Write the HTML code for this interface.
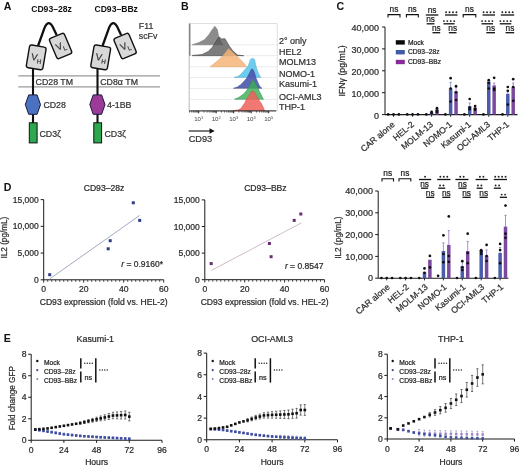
<!DOCTYPE html>
<html><head><meta charset="utf-8"><style>
html,body{margin:0;padding:0;background:#fff;}
body{width:520px;height:467px;overflow:hidden;}
svg{display:block;font-family:"Liberation Sans", sans-serif;will-change:transform;}
</style></head><body>
<svg width="520" height="467" viewBox="0 0 520 467">
<rect width="520" height="467" fill="#fff"/>
<text x="3.80" y="9.80" font-size="10.6" text-anchor="start" font-weight="bold" fill="#111" >A</text>
<text x="181.00" y="10.00" font-size="10.6" text-anchor="start" font-weight="bold" fill="#111" >B</text>
<text x="336.50" y="10.00" font-size="10.6" text-anchor="start" font-weight="bold" fill="#111" >C</text>
<text x="3.80" y="190.60" font-size="10.6" text-anchor="start" font-weight="bold" fill="#111" >D</text>
<text x="3.80" y="342.20" font-size="10.6" text-anchor="start" font-weight="bold" fill="#111" >E</text>
<line x1="18.30" y1="75.90" x2="160.00" y2="75.90" stroke="#9a9a9a" stroke-width="1.1" />
<line x1="18.30" y1="86.90" x2="160.00" y2="86.90" stroke="#9a9a9a" stroke-width="1.1" />
<line x1="33.00" y1="66.00" x2="33.00" y2="123.00" stroke="#111" stroke-width="2.1" />
<path d="M38,46 L44.6,27.6 Q48.4,19.2 52.6,26.5 L56.6,35" fill="none" stroke="#111" stroke-width="2.3"/>
<g transform="translate(36.2,57.4) rotate(9.5)"><rect x="-8.4" y="-11.5" width="16.8" height="23" rx="2.2" fill="#d8d8d8" stroke="#111" stroke-width="1.4"/><text x="-4.9" y="3.2" font-size="9.4" fill="#333" stroke="#333" stroke-width="0.22">V</text><text x="1.2" y="5.8" font-size="6.2" fill="#333" stroke="#333" stroke-width="0.22">H</text></g>
<g transform="translate(60.6,46.0) rotate(-23)"><rect x="-8.1" y="-11" width="16.2" height="22" rx="2.2" fill="#d8d8d8" stroke="#111" stroke-width="1.4"/><text x="-4.6" y="3.2" font-size="9.4" fill="#333" stroke="#333" stroke-width="0.22">V</text><text x="1.4" y="5.8" font-size="6.2" fill="#333" stroke="#333" stroke-width="0.22">L</text></g>
<polygon points="25.30,104.60 28.70,94.90 37.10,94.90 40.50,104.60 37.10,114.30 28.70,114.30" fill="#4a72c0" stroke="#1a1a3a" stroke-width="1.0"/>
<rect x="29.3" y="122.8" width="7.8" height="20.1" fill="#2ea84e" stroke="#111" stroke-width="1.0"/>
<line x1="97.50" y1="66.00" x2="97.50" y2="123.00" stroke="#111" stroke-width="2.1" />
<path d="M102.5,46 L109.1,27.6 Q112.9,19.2 117.1,26.5 L121.1,35" fill="none" stroke="#111" stroke-width="2.3"/>
<g transform="translate(100.7,57.4) rotate(9.5)"><rect x="-8.4" y="-11.5" width="16.8" height="23" rx="2.2" fill="#d8d8d8" stroke="#111" stroke-width="1.4"/><text x="-4.9" y="3.2" font-size="9.4" fill="#333" stroke="#333" stroke-width="0.22">V</text><text x="1.2" y="5.8" font-size="6.2" fill="#333" stroke="#333" stroke-width="0.22">H</text></g>
<g transform="translate(125.1,46.0) rotate(-23)"><rect x="-8.1" y="-11" width="16.2" height="22" rx="2.2" fill="#d8d8d8" stroke="#111" stroke-width="1.4"/><text x="-4.6" y="3.2" font-size="9.4" fill="#333" stroke="#333" stroke-width="0.22">V</text><text x="1.4" y="5.8" font-size="6.2" fill="#333" stroke="#333" stroke-width="0.22">L</text></g>
<polygon points="89.80,104.60 93.20,94.90 101.60,94.90 105.00,104.60 101.60,114.30 93.20,114.30" fill="#9c3a9a" stroke="#1a1a3a" stroke-width="1.0"/>
<rect x="93.8" y="122.8" width="7.8" height="20.1" fill="#2ea84e" stroke="#111" stroke-width="1.0"/>
<text x="51.50" y="12.20" font-size="8.6" text-anchor="middle" font-weight="bold" fill="#111" >CD93–28z</text>
<text x="116.20" y="12.20" font-size="8.6" text-anchor="middle" font-weight="bold" fill="#111" >CD93–BBz</text>
<text x="138.80" y="29.20" font-size="8.8" text-anchor="start" font-weight="normal" fill="#333"  stroke="#333" stroke-width="0.22">F11</text>
<text x="138.80" y="38.60" font-size="8.8" text-anchor="start" font-weight="normal" fill="#333"  stroke="#333" stroke-width="0.22">scFv</text>
<text x="35.60" y="84.60" font-size="8.8" text-anchor="start" font-weight="normal" fill="#333"  stroke="#333" stroke-width="0.22">CD28 TM</text>
<text x="100.20" y="84.60" font-size="8.8" text-anchor="start" font-weight="normal" fill="#333"  stroke="#333" stroke-width="0.22">CD8α TM</text>
<text x="43.40" y="108.20" font-size="8.8" text-anchor="start" font-weight="normal" fill="#333"  stroke="#333" stroke-width="0.22">CD28</text>
<text x="107.00" y="108.20" font-size="8.8" text-anchor="start" font-weight="normal" fill="#333"  stroke="#333" stroke-width="0.22">4-1BB</text>
<text x="39.50" y="137.40" font-size="8.8" text-anchor="start" font-weight="normal" fill="#333"  stroke="#333" stroke-width="0.22">CD3ζ</text>
<text x="104.50" y="137.40" font-size="8.8" text-anchor="start" font-weight="normal" fill="#333"  stroke="#333" stroke-width="0.22">CD3ζ</text>
<rect x="189.2" y="23.6" width="88.0" height="87.30000000000001" fill="none" stroke="#d8d8d8" stroke-width="0.8"/>
<line x1="189.20" y1="44.80" x2="277.20" y2="44.80" stroke="#e6e6e6" stroke-width="0.8" />
<line x1="189.20" y1="55.70" x2="277.20" y2="55.70" stroke="#e6e6e6" stroke-width="0.8" />
<line x1="189.20" y1="66.80" x2="277.20" y2="66.80" stroke="#e6e6e6" stroke-width="0.8" />
<line x1="189.20" y1="77.60" x2="277.20" y2="77.60" stroke="#e6e6e6" stroke-width="0.8" />
<line x1="189.20" y1="88.40" x2="277.20" y2="88.40" stroke="#e6e6e6" stroke-width="0.8" />
<line x1="189.20" y1="99.40" x2="277.20" y2="99.40" stroke="#e6e6e6" stroke-width="0.8" />
<path d="M192.20,44.80 L192.20,44.80 L198.30,42.80 L204.50,39.70 L208.80,34.80 L212.50,29.20 L214.90,26.20 L217.40,29.80 L218.60,36.00 L220.50,40.50 L223.00,44.80 L223.00,44.80 Z" fill="#8c8c8c" fill-opacity="1" stroke="#707070" stroke-width="0.5"/>
<line x1="189.70" y1="23.80" x2="189.70" y2="55.70" stroke="#222" stroke-width="1.1" />
<path d="M192.20,55.70 L192.20,55.40 L202.00,54.50 L208.20,51.40 L212.50,47.10 L215.50,42.20 L218.20,37.80 L219.80,37.20 L221.70,39.10 L224.80,38.50 L226.00,40.30 L229.10,45.80 L232.80,50.80 L237.70,55.10 L243.80,55.70 L243.80,55.70 Z" fill="#585858" fill-opacity="0.78" stroke="#3a3a3a" stroke-width="0.5"/>
<path d="M210.60,66.80 L210.60,66.50 L218.00,60.60 L222.90,55.70 L227.80,49.50 L228.50,48.60 L232.80,52.60 L237.70,56.90 L243.80,63.10 L246.30,66.50 L246.30,66.80 Z" fill="#f6b478" fill-opacity="0.85" stroke="#dc9c60" stroke-width="0.5"/>
<path d="M234.20,77.40 L234.20,77.40 L238.00,76.50 L241.80,73.20 L245.00,69.50 L248.40,65.50 L250.50,59.40 L252.60,58.20 L254.60,59.40 L255.80,65.50 L257.00,69.50 L258.40,73.20 L259.80,76.00 L261.00,77.40 L261.00,77.40 Z" fill="#62c8ec" fill-opacity="0.92" stroke="#4aa8cc" stroke-width="0.5"/>
<path d="M233.50,88.30 L233.50,88.30 L237.00,87.20 L240.40,84.90 L243.80,81.50 L246.90,78.00 L249.50,73.00 L251.20,69.50 L252.10,68.90 L253.00,69.50 L254.60,73.00 L256.00,78.00 L257.50,81.50 L259.00,84.90 L260.50,87.20 L262.00,88.30 L262.00,88.30 Z" fill="#4b55ad" fill-opacity="0.9" stroke="#3a4090" stroke-width="0.5"/>
<path d="M234.60,99.30 L234.60,99.30 L238.50,97.60 L243.30,94.20 L246.00,91.20 L248.60,87.50 L250.50,83.50 L252.30,80.50 L253.50,80.30 L255.00,82.50 L257.70,87.50 L259.30,91.20 L261.00,94.20 L262.30,97.20 L263.50,99.30 L263.50,99.30 Z" fill="#3cae58" fill-opacity="0.82" stroke="#2f8a48" stroke-width="0.5"/>
<path d="M233.50,110.60 L233.50,110.60 L238.00,110.00 L240.90,108.50 L244.20,103.80 L246.60,99.00 L249.50,94.50 L251.50,91.20 L252.60,90.90 L254.00,91.50 L256.00,95.00 L258.20,99.00 L261.50,103.80 L263.50,108.00 L264.60,110.60 L264.60,110.60 Z" fill="#f0605c" fill-opacity="0.85" stroke="#cc4a48" stroke-width="0.5"/>
<line x1="189.20" y1="110.90" x2="276.20" y2="110.90" stroke="#222" stroke-width="1.0" />
<line x1="189.20" y1="23.60" x2="189.20" y2="110.90" stroke="#bdbdbd" stroke-width="0.8" />
<line x1="198.70" y1="110.90" x2="198.70" y2="113.30" stroke="#222" stroke-width="1.0" />
<line x1="216.20" y1="110.90" x2="216.20" y2="113.30" stroke="#222" stroke-width="1.0" />
<line x1="233.70" y1="110.90" x2="233.70" y2="113.30" stroke="#222" stroke-width="1.0" />
<line x1="251.20" y1="110.90" x2="251.20" y2="113.30" stroke="#222" stroke-width="1.0" />
<line x1="268.70" y1="110.90" x2="268.70" y2="113.30" stroke="#222" stroke-width="1.0" />
<line x1="189.55" y1="110.90" x2="189.55" y2="112.60" stroke="#333" stroke-width="0.7" />
<line x1="191.74" y1="110.90" x2="191.74" y2="112.60" stroke="#333" stroke-width="0.7" />
<line x1="193.43" y1="110.90" x2="193.43" y2="112.60" stroke="#333" stroke-width="0.7" />
<line x1="194.82" y1="110.90" x2="194.82" y2="112.60" stroke="#333" stroke-width="0.7" />
<line x1="195.99" y1="110.90" x2="195.99" y2="112.60" stroke="#333" stroke-width="0.7" />
<line x1="197.00" y1="110.90" x2="197.00" y2="112.60" stroke="#333" stroke-width="0.7" />
<line x1="197.90" y1="110.90" x2="197.90" y2="112.60" stroke="#333" stroke-width="0.7" />
<line x1="203.97" y1="110.90" x2="203.97" y2="112.60" stroke="#333" stroke-width="0.7" />
<line x1="207.05" y1="110.90" x2="207.05" y2="112.60" stroke="#333" stroke-width="0.7" />
<line x1="209.24" y1="110.90" x2="209.24" y2="112.60" stroke="#333" stroke-width="0.7" />
<line x1="210.93" y1="110.90" x2="210.93" y2="112.60" stroke="#333" stroke-width="0.7" />
<line x1="212.32" y1="110.90" x2="212.32" y2="112.60" stroke="#333" stroke-width="0.7" />
<line x1="213.49" y1="110.90" x2="213.49" y2="112.60" stroke="#333" stroke-width="0.7" />
<line x1="214.50" y1="110.90" x2="214.50" y2="112.60" stroke="#333" stroke-width="0.7" />
<line x1="215.40" y1="110.90" x2="215.40" y2="112.60" stroke="#333" stroke-width="0.7" />
<line x1="221.47" y1="110.90" x2="221.47" y2="112.60" stroke="#333" stroke-width="0.7" />
<line x1="224.55" y1="110.90" x2="224.55" y2="112.60" stroke="#333" stroke-width="0.7" />
<line x1="226.74" y1="110.90" x2="226.74" y2="112.60" stroke="#333" stroke-width="0.7" />
<line x1="228.43" y1="110.90" x2="228.43" y2="112.60" stroke="#333" stroke-width="0.7" />
<line x1="229.82" y1="110.90" x2="229.82" y2="112.60" stroke="#333" stroke-width="0.7" />
<line x1="230.99" y1="110.90" x2="230.99" y2="112.60" stroke="#333" stroke-width="0.7" />
<line x1="232.00" y1="110.90" x2="232.00" y2="112.60" stroke="#333" stroke-width="0.7" />
<line x1="232.90" y1="110.90" x2="232.90" y2="112.60" stroke="#333" stroke-width="0.7" />
<line x1="238.97" y1="110.90" x2="238.97" y2="112.60" stroke="#333" stroke-width="0.7" />
<line x1="242.05" y1="110.90" x2="242.05" y2="112.60" stroke="#333" stroke-width="0.7" />
<line x1="244.24" y1="110.90" x2="244.24" y2="112.60" stroke="#333" stroke-width="0.7" />
<line x1="245.93" y1="110.90" x2="245.93" y2="112.60" stroke="#333" stroke-width="0.7" />
<line x1="247.32" y1="110.90" x2="247.32" y2="112.60" stroke="#333" stroke-width="0.7" />
<line x1="248.49" y1="110.90" x2="248.49" y2="112.60" stroke="#333" stroke-width="0.7" />
<line x1="249.50" y1="110.90" x2="249.50" y2="112.60" stroke="#333" stroke-width="0.7" />
<line x1="250.40" y1="110.90" x2="250.40" y2="112.60" stroke="#333" stroke-width="0.7" />
<line x1="256.47" y1="110.90" x2="256.47" y2="112.60" stroke="#333" stroke-width="0.7" />
<line x1="259.55" y1="110.90" x2="259.55" y2="112.60" stroke="#333" stroke-width="0.7" />
<line x1="261.74" y1="110.90" x2="261.74" y2="112.60" stroke="#333" stroke-width="0.7" />
<line x1="263.43" y1="110.90" x2="263.43" y2="112.60" stroke="#333" stroke-width="0.7" />
<line x1="264.82" y1="110.90" x2="264.82" y2="112.60" stroke="#333" stroke-width="0.7" />
<line x1="265.99" y1="110.90" x2="265.99" y2="112.60" stroke="#333" stroke-width="0.7" />
<line x1="267.00" y1="110.90" x2="267.00" y2="112.60" stroke="#333" stroke-width="0.7" />
<line x1="267.90" y1="110.90" x2="267.90" y2="112.60" stroke="#333" stroke-width="0.7" />
<text x="198.70" y="120.8" font-size="6.1" text-anchor="middle" fill="#444" stroke="none">10<tspan dy="-2.3" font-size="4.0">1</tspan></text>
<text x="216.20" y="120.8" font-size="6.1" text-anchor="middle" fill="#444" stroke="none">10<tspan dy="-2.3" font-size="4.0">2</tspan></text>
<text x="233.70" y="120.8" font-size="6.1" text-anchor="middle" fill="#444" stroke="none">10<tspan dy="-2.3" font-size="4.0">3</tspan></text>
<text x="251.20" y="120.8" font-size="6.1" text-anchor="middle" fill="#444" stroke="none">10<tspan dy="-2.3" font-size="4.0">4</tspan></text>
<text x="268.70" y="120.8" font-size="6.1" text-anchor="middle" fill="#444" stroke="none">10<tspan dy="-2.3" font-size="4.0">5</tspan></text>
<line x1="188.70" y1="131.00" x2="211.00" y2="131.00" stroke="#111" stroke-width="1.1" />
<polygon points="209.5,128.3 214.7,131 209.5,133.7" fill="#111"/>
<text x="188.70" y="142.40" font-size="9.2" text-anchor="start" font-weight="normal" fill="#333"  stroke="#333" stroke-width="0.22">CD93</text>
<text x="279.00" y="44.40" font-size="9" text-anchor="start" font-weight="normal" fill="#333"  stroke="#333" stroke-width="0.22">2° only</text>
<text x="279.00" y="55.00" font-size="9" text-anchor="start" font-weight="normal" fill="#333"  stroke="#333" stroke-width="0.22">HEL2</text>
<text x="279.00" y="65.00" font-size="9" text-anchor="start" font-weight="normal" fill="#333"  stroke="#333" stroke-width="0.22">MOLM13</text>
<text x="279.00" y="77.20" font-size="9" text-anchor="start" font-weight="normal" fill="#333"  stroke="#333" stroke-width="0.22">NOMO-1</text>
<text x="279.00" y="87.20" font-size="9" text-anchor="start" font-weight="normal" fill="#333"  stroke="#333" stroke-width="0.22">Kasumi-1</text>
<text x="279.00" y="99.60" font-size="9" text-anchor="start" font-weight="normal" fill="#333"  stroke="#333" stroke-width="0.22">OCI-AML3</text>
<text x="279.00" y="109.80" font-size="9" text-anchor="start" font-weight="normal" fill="#333"  stroke="#333" stroke-width="0.22">THP-1</text>
<line x1="385.00" y1="27.00" x2="385.00" y2="114.60" stroke="#1a1a1a" stroke-width="1.0" />
<line x1="382.00" y1="114.60" x2="385.00" y2="114.60" stroke="#1a1a1a" stroke-width="1.0" />
<text x="379.00" y="118.50" font-size="9" text-anchor="end" font-weight="normal" fill="#2a2a2a"  stroke="#2a2a2a" stroke-width="0.22">0</text>
<line x1="382.00" y1="92.70" x2="385.00" y2="92.70" stroke="#1a1a1a" stroke-width="1.0" />
<text x="379.00" y="96.60" font-size="9" text-anchor="end" font-weight="normal" fill="#2a2a2a"  stroke="#2a2a2a" stroke-width="0.22">10,000</text>
<line x1="382.00" y1="70.80" x2="385.00" y2="70.80" stroke="#1a1a1a" stroke-width="1.0" />
<text x="379.00" y="74.70" font-size="9" text-anchor="end" font-weight="normal" fill="#2a2a2a"  stroke="#2a2a2a" stroke-width="0.22">20,000</text>
<line x1="382.00" y1="48.90" x2="385.00" y2="48.90" stroke="#1a1a1a" stroke-width="1.0" />
<text x="379.00" y="52.80" font-size="9" text-anchor="end" font-weight="normal" fill="#2a2a2a"  stroke="#2a2a2a" stroke-width="0.22">30,000</text>
<line x1="382.00" y1="27.00" x2="385.00" y2="27.00" stroke="#1a1a1a" stroke-width="1.0" />
<text x="379.00" y="30.90" font-size="9" text-anchor="end" font-weight="normal" fill="#2a2a2a"  stroke="#2a2a2a" stroke-width="0.22">40,000</text>
<line x1="385.00" y1="114.60" x2="517.50" y2="114.60" stroke="#1a1a1a" stroke-width="1.1" />
<line x1="393.50" y1="114.60" x2="393.50" y2="116.80" stroke="#1a1a1a" stroke-width="0.9" />
<line x1="412.55" y1="114.60" x2="412.55" y2="116.80" stroke="#1a1a1a" stroke-width="0.9" />
<line x1="431.60" y1="114.60" x2="431.60" y2="116.80" stroke="#1a1a1a" stroke-width="0.9" />
<line x1="450.65" y1="114.60" x2="450.65" y2="116.80" stroke="#1a1a1a" stroke-width="0.9" />
<line x1="469.70" y1="114.60" x2="469.70" y2="116.80" stroke="#1a1a1a" stroke-width="0.9" />
<line x1="488.75" y1="114.60" x2="488.75" y2="116.80" stroke="#1a1a1a" stroke-width="0.9" />
<line x1="507.80" y1="114.60" x2="507.80" y2="116.80" stroke="#1a1a1a" stroke-width="0.9" />
<circle cx="388.20" cy="114.40" r="1.35" fill="#111" />
<circle cx="393.50" cy="114.40" r="1.35" fill="#111" />
<circle cx="398.90" cy="114.40" r="1.35" fill="#111" />
<circle cx="407.25" cy="114.40" r="1.35" fill="#111" />
<circle cx="412.55" cy="114.40" r="1.35" fill="#111" />
<circle cx="417.95" cy="114.40" r="1.35" fill="#111" />
<circle cx="426.30" cy="114.40" r="1.35" fill="#111" />
<rect x="429.85" y="112.30" width="3.50" height="2.30" fill="#4a5cab" />
<circle cx="431.60" cy="113.00" r="1.35" fill="#111" />
<circle cx="431.60" cy="111.80" r="1.35" fill="#111" />
<rect x="435.25" y="109.50" width="3.50" height="5.10" fill="#7b4a9e" />
<line x1="437.00" y1="107.80" x2="437.00" y2="109.50" stroke="#7b4a9e" stroke-width="0.6" />
<line x1="435.90" y1="107.80" x2="438.10" y2="107.80" stroke="#7b4a9e" stroke-width="0.6" />
<circle cx="437.00" cy="108.20" r="1.35" fill="#111" />
<circle cx="437.00" cy="110.50" r="1.35" fill="#111" />
<circle cx="437.00" cy="112.00" r="1.35" fill="#111" />
<circle cx="445.35" cy="114.40" r="1.35" fill="#111" />
<rect x="448.90" y="88.50" width="3.50" height="26.10" fill="#4a5cab" />
<line x1="450.65" y1="82.30" x2="450.65" y2="88.50" stroke="#4a5cab" stroke-width="0.6" />
<line x1="449.55" y1="82.30" x2="451.75" y2="82.30" stroke="#4a5cab" stroke-width="0.6" />
<circle cx="450.65" cy="78.20" r="1.35" fill="#111" />
<circle cx="450.65" cy="88.50" r="1.35" fill="#111" />
<circle cx="450.65" cy="101.50" r="1.35" fill="#111" />
<rect x="454.30" y="91.50" width="3.50" height="23.10" fill="#7b4a9e" />
<line x1="456.05" y1="87.50" x2="456.05" y2="91.50" stroke="#7b4a9e" stroke-width="0.6" />
<line x1="454.95" y1="87.50" x2="457.15" y2="87.50" stroke="#7b4a9e" stroke-width="0.6" />
<circle cx="456.05" cy="86.20" r="1.35" fill="#111" />
<circle cx="456.05" cy="92.30" r="1.35" fill="#111" />
<circle cx="456.05" cy="100.00" r="1.35" fill="#111" />
<circle cx="464.40" cy="114.40" r="1.35" fill="#111" />
<rect x="467.95" y="106.20" width="3.50" height="8.40" fill="#4a5cab" />
<line x1="469.70" y1="103.00" x2="469.70" y2="106.20" stroke="#4a5cab" stroke-width="0.6" />
<line x1="468.60" y1="103.00" x2="470.80" y2="103.00" stroke="#4a5cab" stroke-width="0.6" />
<circle cx="469.70" cy="99.00" r="1.35" fill="#111" />
<circle cx="469.70" cy="107.50" r="1.35" fill="#111" />
<circle cx="469.70" cy="109.20" r="1.35" fill="#111" />
<rect x="473.35" y="107.80" width="3.50" height="6.80" fill="#7b4a9e" />
<line x1="475.10" y1="105.50" x2="475.10" y2="107.80" stroke="#7b4a9e" stroke-width="0.6" />
<line x1="474.00" y1="105.50" x2="476.20" y2="105.50" stroke="#7b4a9e" stroke-width="0.6" />
<circle cx="475.10" cy="106.00" r="1.35" fill="#111" />
<circle cx="475.10" cy="108.50" r="1.35" fill="#111" />
<circle cx="475.10" cy="109.80" r="1.35" fill="#111" />
<circle cx="483.45" cy="114.40" r="1.35" fill="#111" />
<rect x="487.00" y="81.50" width="3.50" height="33.10" fill="#4a5cab" />
<circle cx="488.75" cy="80.20" r="1.35" fill="#111" />
<circle cx="488.75" cy="83.00" r="1.35" fill="#111" />
<circle cx="488.75" cy="88.50" r="1.35" fill="#111" />
<rect x="492.40" y="85.40" width="3.50" height="29.20" fill="#7b4a9e" />
<line x1="494.15" y1="83.00" x2="494.15" y2="85.40" stroke="#7b4a9e" stroke-width="0.6" />
<line x1="493.05" y1="83.00" x2="495.25" y2="83.00" stroke="#7b4a9e" stroke-width="0.6" />
<circle cx="494.15" cy="77.80" r="1.35" fill="#111" />
<circle cx="494.15" cy="88.50" r="1.35" fill="#111" />
<circle cx="494.15" cy="90.00" r="1.35" fill="#111" />
<circle cx="502.50" cy="114.40" r="1.35" fill="#111" />
<rect x="506.05" y="93.80" width="3.50" height="20.80" fill="#4a5cab" />
<line x1="507.80" y1="90.50" x2="507.80" y2="93.80" stroke="#4a5cab" stroke-width="0.6" />
<line x1="506.70" y1="90.50" x2="508.90" y2="90.50" stroke="#4a5cab" stroke-width="0.6" />
<circle cx="507.80" cy="87.00" r="1.35" fill="#111" />
<circle cx="507.80" cy="90.80" r="1.35" fill="#111" />
<circle cx="507.80" cy="104.60" r="1.35" fill="#111" />
<rect x="511.45" y="87.00" width="3.50" height="27.60" fill="#7b4a9e" />
<line x1="513.20" y1="83.00" x2="513.20" y2="87.00" stroke="#7b4a9e" stroke-width="0.6" />
<line x1="512.10" y1="83.00" x2="514.30" y2="83.00" stroke="#7b4a9e" stroke-width="0.6" />
<circle cx="513.20" cy="79.20" r="1.35" fill="#111" />
<circle cx="513.20" cy="87.00" r="1.35" fill="#111" />
<circle cx="513.20" cy="100.80" r="1.35" fill="#111" />
<text x="345.00" y="70.90" font-size="8.8" text-anchor="middle" fill="#2a2a2a" transform="rotate(-90 345.00 70.90)" stroke="#2a2a2a" stroke-width="0.22">IFNγ (pg/mL)</text>
<text x="395.50" y="125.50" font-size="8.6" text-anchor="end" fill="#2a2a2a" transform="rotate(-40 395.50 125.50)" stroke="#2a2a2a" stroke-width="0.22">CAR alone</text>
<text x="414.55" y="125.50" font-size="8.6" text-anchor="end" fill="#2a2a2a" transform="rotate(-40 414.55 125.50)" stroke="#2a2a2a" stroke-width="0.22">HEL-2</text>
<text x="433.60" y="125.50" font-size="8.6" text-anchor="end" fill="#2a2a2a" transform="rotate(-40 433.60 125.50)" stroke="#2a2a2a" stroke-width="0.22">MOLM-13</text>
<text x="452.65" y="125.50" font-size="8.6" text-anchor="end" fill="#2a2a2a" transform="rotate(-40 452.65 125.50)" stroke="#2a2a2a" stroke-width="0.22">NOMO-1</text>
<text x="471.70" y="125.50" font-size="8.6" text-anchor="end" fill="#2a2a2a" transform="rotate(-40 471.70 125.50)" stroke="#2a2a2a" stroke-width="0.22">Kasumi-1</text>
<text x="490.75" y="125.50" font-size="8.6" text-anchor="end" fill="#2a2a2a" transform="rotate(-40 490.75 125.50)" stroke="#2a2a2a" stroke-width="0.22">OCI-AML3</text>
<text x="509.80" y="125.50" font-size="8.6" text-anchor="end" fill="#2a2a2a" transform="rotate(-40 509.80 125.50)" stroke="#2a2a2a" stroke-width="0.22">THP-1</text>
<rect x="395.80" y="40.20" width="9.00" height="4.40" fill="#0a0a0a" />
<text x="407.90" y="44.60" font-size="6.7" text-anchor="start" font-weight="normal" fill="#222"  stroke="#222" stroke-width="0.22">Mock</text>
<rect x="395.80" y="50.00" width="9.00" height="4.40" fill="#3f5aa6" />
<text x="407.90" y="54.40" font-size="6.7" text-anchor="start" font-weight="normal" fill="#222"  stroke="#222" stroke-width="0.22">CD93–28z</text>
<rect x="395.80" y="59.80" width="9.00" height="4.40" fill="#8a2a9a" />
<text x="407.90" y="64.20" font-size="6.7" text-anchor="start" font-weight="normal" fill="#222"  stroke="#222" stroke-width="0.22">CD93–BBz</text>
<path d="M388.00,17.40 L388.00,14.60 L400.00,14.60 L400.00,17.40" fill="none" stroke="#111" stroke-width="1.1"/>
<text x="394.00" y="11.80" font-size="8.3" text-anchor="middle" font-weight="normal" fill="#222"  stroke="#222" stroke-width="0.22">ns</text>
<path d="M406.40,17.40 L406.40,14.60 L418.30,14.60 L418.30,17.40" fill="none" stroke="#111" stroke-width="1.1"/>
<text x="412.35" y="11.80" font-size="8.3" text-anchor="middle" font-weight="normal" fill="#222"  stroke="#222" stroke-width="0.22">ns</text>
<line x1="425.80" y1="15.00" x2="438.30" y2="15.00" stroke="#111" stroke-width="1.3" />
<text x="432.05" y="13.40" font-size="8.3" text-anchor="middle" font-weight="normal" fill="#222"  stroke="#222" stroke-width="0.22">ns</text>
<line x1="426.70" y1="23.80" x2="434.40" y2="23.80" stroke="#111" stroke-width="1.3" />
<text x="430.55" y="22.20" font-size="8.3" text-anchor="middle" font-weight="normal" fill="#222"  stroke="#222" stroke-width="0.22">ns</text>
<line x1="432.50" y1="32.70" x2="440.20" y2="32.70" stroke="#111" stroke-width="1.3" />
<text x="436.35" y="31.10" font-size="8.3" text-anchor="middle" font-weight="normal" fill="#222"  stroke="#222" stroke-width="0.22">ns</text>
<line x1="445.00" y1="15.00" x2="457.50" y2="15.00" stroke="#111" stroke-width="1.3" />
<circle cx="446.07" cy="12.30" r="0.95" fill="#222" />
<circle cx="449.52" cy="12.30" r="0.95" fill="#222" />
<circle cx="452.98" cy="12.30" r="0.95" fill="#222" />
<circle cx="456.43" cy="12.30" r="0.95" fill="#222" />
<line x1="443.50" y1="23.80" x2="454.60" y2="23.80" stroke="#111" stroke-width="1.3" />
<circle cx="443.88" cy="21.10" r="0.95" fill="#222" />
<circle cx="447.32" cy="21.10" r="0.95" fill="#222" />
<circle cx="450.78" cy="21.10" r="0.95" fill="#222" />
<circle cx="454.23" cy="21.10" r="0.95" fill="#222" />
<line x1="448.80" y1="32.70" x2="456.50" y2="32.70" stroke="#111" stroke-width="1.3" />
<text x="452.65" y="31.10" font-size="8.3" text-anchor="middle" font-weight="normal" fill="#222"  stroke="#222" stroke-width="0.22">ns</text>
<path d="M463.20,17.40 L463.20,14.60 L475.80,14.60 L475.80,17.40" fill="none" stroke="#111" stroke-width="1.1"/>
<text x="469.50" y="11.80" font-size="8.3" text-anchor="middle" font-weight="normal" fill="#222"  stroke="#222" stroke-width="0.22">ns</text>
<line x1="482.50" y1="15.00" x2="495.00" y2="15.00" stroke="#111" stroke-width="1.3" />
<circle cx="483.57" cy="12.30" r="0.95" fill="#222" />
<circle cx="487.02" cy="12.30" r="0.95" fill="#222" />
<circle cx="490.48" cy="12.30" r="0.95" fill="#222" />
<circle cx="493.93" cy="12.30" r="0.95" fill="#222" />
<line x1="481.50" y1="23.80" x2="493.00" y2="23.80" stroke="#111" stroke-width="1.3" />
<circle cx="482.07" cy="21.10" r="0.95" fill="#222" />
<circle cx="485.52" cy="21.10" r="0.95" fill="#222" />
<circle cx="488.98" cy="21.10" r="0.95" fill="#222" />
<circle cx="492.43" cy="21.10" r="0.95" fill="#222" />
<line x1="486.30" y1="32.70" x2="495.00" y2="32.70" stroke="#111" stroke-width="1.3" />
<text x="490.65" y="31.10" font-size="8.3" text-anchor="middle" font-weight="normal" fill="#222"  stroke="#222" stroke-width="0.22">ns</text>
<line x1="500.80" y1="15.00" x2="514.20" y2="15.00" stroke="#111" stroke-width="1.3" />
<circle cx="502.32" cy="12.30" r="0.95" fill="#222" />
<circle cx="505.77" cy="12.30" r="0.95" fill="#222" />
<circle cx="509.23" cy="12.30" r="0.95" fill="#222" />
<circle cx="512.67" cy="12.30" r="0.95" fill="#222" />
<line x1="499.80" y1="23.80" x2="511.30" y2="23.80" stroke="#111" stroke-width="1.3" />
<circle cx="500.38" cy="21.10" r="0.95" fill="#222" />
<circle cx="503.82" cy="21.10" r="0.95" fill="#222" />
<circle cx="507.28" cy="21.10" r="0.95" fill="#222" />
<circle cx="510.73" cy="21.10" r="0.95" fill="#222" />
<line x1="505.60" y1="32.70" x2="514.20" y2="32.70" stroke="#111" stroke-width="1.3" />
<text x="509.90" y="31.10" font-size="8.3" text-anchor="middle" font-weight="normal" fill="#222"  stroke="#222" stroke-width="0.22">ns</text>
<line x1="378.20" y1="191.00" x2="378.20" y2="278.20" stroke="#1a1a1a" stroke-width="1.0" />
<line x1="375.20" y1="278.20" x2="378.20" y2="278.20" stroke="#1a1a1a" stroke-width="1.0" />
<text x="372.90" y="281.40" font-size="9" text-anchor="end" font-weight="normal" fill="#2a2a2a"  stroke="#2a2a2a" stroke-width="0.22">0</text>
<line x1="375.20" y1="256.40" x2="378.20" y2="256.40" stroke="#1a1a1a" stroke-width="1.0" />
<text x="372.90" y="259.60" font-size="9" text-anchor="end" font-weight="normal" fill="#2a2a2a"  stroke="#2a2a2a" stroke-width="0.22">10,000</text>
<line x1="375.20" y1="234.60" x2="378.20" y2="234.60" stroke="#1a1a1a" stroke-width="1.0" />
<text x="372.90" y="237.80" font-size="9" text-anchor="end" font-weight="normal" fill="#2a2a2a"  stroke="#2a2a2a" stroke-width="0.22">20,000</text>
<line x1="375.20" y1="212.80" x2="378.20" y2="212.80" stroke="#1a1a1a" stroke-width="1.0" />
<text x="372.90" y="216.00" font-size="9" text-anchor="end" font-weight="normal" fill="#2a2a2a"  stroke="#2a2a2a" stroke-width="0.22">30,000</text>
<line x1="375.20" y1="191.00" x2="378.20" y2="191.00" stroke="#1a1a1a" stroke-width="1.0" />
<text x="372.90" y="194.20" font-size="9" text-anchor="end" font-weight="normal" fill="#2a2a2a"  stroke="#2a2a2a" stroke-width="0.22">40,000</text>
<line x1="378.20" y1="278.20" x2="508.40" y2="278.20" stroke="#1a1a1a" stroke-width="1.1" />
<line x1="386.70" y1="278.20" x2="386.70" y2="280.40" stroke="#1a1a1a" stroke-width="0.9" />
<line x1="405.60" y1="278.20" x2="405.60" y2="280.40" stroke="#1a1a1a" stroke-width="0.9" />
<line x1="424.50" y1="278.20" x2="424.50" y2="280.40" stroke="#1a1a1a" stroke-width="0.9" />
<line x1="443.40" y1="278.20" x2="443.40" y2="280.40" stroke="#1a1a1a" stroke-width="0.9" />
<line x1="462.30" y1="278.20" x2="462.30" y2="280.40" stroke="#1a1a1a" stroke-width="0.9" />
<line x1="481.20" y1="278.20" x2="481.20" y2="280.40" stroke="#1a1a1a" stroke-width="0.9" />
<line x1="500.10" y1="278.20" x2="500.10" y2="280.40" stroke="#1a1a1a" stroke-width="0.9" />
<circle cx="381.40" cy="278.00" r="1.35" fill="#111" />
<circle cx="386.70" cy="278.00" r="1.35" fill="#111" />
<circle cx="392.10" cy="278.00" r="1.35" fill="#111" />
<circle cx="400.30" cy="278.00" r="1.35" fill="#111" />
<circle cx="405.60" cy="278.00" r="1.35" fill="#111" />
<circle cx="411.00" cy="278.00" r="1.35" fill="#111" />
<circle cx="419.20" cy="278.00" r="1.35" fill="#111" />
<rect x="422.75" y="272.30" width="3.50" height="5.90" fill="#4a5cab" />
<circle cx="424.50" cy="268.40" r="1.35" fill="#111" />
<circle cx="424.50" cy="272.80" r="1.35" fill="#111" />
<rect x="428.15" y="259.70" width="3.50" height="18.50" fill="#7b4a9e" />
<circle cx="429.90" cy="255.90" r="1.35" fill="#111" />
<circle cx="429.90" cy="267.40" r="1.35" fill="#111" />
<circle cx="438.10" cy="275.80" r="1.35" fill="#111" />
<rect x="441.65" y="251.00" width="3.50" height="27.20" fill="#4a5cab" />
<line x1="443.40" y1="242.90" x2="443.40" y2="251.00" stroke="#4a5cab" stroke-width="0.6" />
<line x1="442.30" y1="242.90" x2="444.50" y2="242.90" stroke="#4a5cab" stroke-width="0.6" />
<circle cx="443.40" cy="235.30" r="1.35" fill="#111" />
<circle cx="443.40" cy="254.00" r="1.35" fill="#111" />
<circle cx="443.40" cy="262.20" r="1.35" fill="#111" />
<rect x="447.05" y="244.90" width="3.50" height="33.30" fill="#7b4a9e" />
<line x1="448.80" y1="230.60" x2="448.80" y2="244.90" stroke="#7b4a9e" stroke-width="0.6" />
<line x1="447.70" y1="230.60" x2="449.90" y2="230.60" stroke="#7b4a9e" stroke-width="0.6" />
<circle cx="448.80" cy="216.40" r="1.35" fill="#111" />
<circle cx="448.80" cy="256.00" r="1.35" fill="#111" />
<circle cx="448.80" cy="261.80" r="1.35" fill="#111" />
<circle cx="457.00" cy="278.00" r="1.35" fill="#111" />
<rect x="460.55" y="266.30" width="3.50" height="11.90" fill="#4a5cab" />
<line x1="462.30" y1="261.20" x2="462.30" y2="266.30" stroke="#4a5cab" stroke-width="0.6" />
<line x1="461.20" y1="261.20" x2="463.40" y2="261.20" stroke="#4a5cab" stroke-width="0.6" />
<circle cx="462.30" cy="261.20" r="1.35" fill="#111" />
<circle cx="462.30" cy="267.30" r="1.35" fill="#111" />
<circle cx="462.30" cy="270.00" r="1.35" fill="#111" />
<rect x="465.95" y="251.00" width="3.50" height="27.20" fill="#7b4a9e" />
<line x1="467.70" y1="241.40" x2="467.70" y2="251.00" stroke="#7b4a9e" stroke-width="0.6" />
<line x1="466.60" y1="241.40" x2="468.80" y2="241.40" stroke="#7b4a9e" stroke-width="0.6" />
<circle cx="467.70" cy="233.70" r="1.35" fill="#111" />
<circle cx="467.70" cy="253.00" r="1.35" fill="#111" />
<circle cx="467.70" cy="263.20" r="1.35" fill="#111" />
<circle cx="475.90" cy="278.00" r="1.35" fill="#111" />
<rect x="479.45" y="250.00" width="3.50" height="28.20" fill="#4a5cab" />
<circle cx="481.20" cy="250.20" r="1.35" fill="#111" />
<circle cx="481.20" cy="252.00" r="1.35" fill="#111" />
<circle cx="481.20" cy="254.00" r="1.35" fill="#111" />
<rect x="484.85" y="255.70" width="3.50" height="22.50" fill="#7b4a9e" />
<line x1="486.60" y1="250.00" x2="486.60" y2="255.70" stroke="#7b4a9e" stroke-width="0.6" />
<line x1="485.50" y1="250.00" x2="487.70" y2="250.00" stroke="#7b4a9e" stroke-width="0.6" />
<circle cx="486.60" cy="244.90" r="1.35" fill="#111" />
<circle cx="486.60" cy="256.00" r="1.35" fill="#111" />
<circle cx="486.60" cy="261.00" r="1.35" fill="#111" />
<circle cx="494.80" cy="278.00" r="1.35" fill="#111" />
<rect x="498.35" y="253.00" width="3.50" height="25.20" fill="#4a5cab" />
<line x1="500.10" y1="247.50" x2="500.10" y2="253.00" stroke="#4a5cab" stroke-width="0.6" />
<line x1="499.00" y1="247.50" x2="501.20" y2="247.50" stroke="#4a5cab" stroke-width="0.6" />
<circle cx="500.10" cy="243.90" r="1.35" fill="#111" />
<circle cx="500.10" cy="250.00" r="1.35" fill="#111" />
<circle cx="500.10" cy="263.20" r="1.35" fill="#111" />
<rect x="503.75" y="226.60" width="3.50" height="51.60" fill="#7b4a9e" />
<line x1="505.50" y1="215.40" x2="505.50" y2="226.60" stroke="#7b4a9e" stroke-width="0.6" />
<line x1="504.40" y1="215.40" x2="506.60" y2="215.40" stroke="#7b4a9e" stroke-width="0.6" />
<circle cx="505.50" cy="205.60" r="1.35" fill="#111" />
<circle cx="505.50" cy="233.70" r="1.35" fill="#111" />
<circle cx="505.50" cy="237.80" r="1.35" fill="#111" />
<text x="341.00" y="237.60" font-size="8.3" text-anchor="middle" fill="#2a2a2a" transform="rotate(-90 341.00 237.60)" stroke="#2a2a2a" stroke-width="0.22">IL2 (pg/mL)</text>
<text x="390.50" y="288.00" font-size="8.6" text-anchor="end" fill="#2a2a2a" transform="rotate(-40 390.50 288.00)" stroke="#2a2a2a" stroke-width="0.22">CAR alone</text>
<text x="409.40" y="288.00" font-size="8.6" text-anchor="end" fill="#2a2a2a" transform="rotate(-40 409.40 288.00)" stroke="#2a2a2a" stroke-width="0.22">HEL-2</text>
<text x="428.30" y="288.00" font-size="8.6" text-anchor="end" fill="#2a2a2a" transform="rotate(-40 428.30 288.00)" stroke="#2a2a2a" stroke-width="0.22">MOLM-13</text>
<text x="447.20" y="288.00" font-size="8.6" text-anchor="end" fill="#2a2a2a" transform="rotate(-40 447.20 288.00)" stroke="#2a2a2a" stroke-width="0.22">NOMO-1</text>
<text x="466.10" y="288.00" font-size="8.6" text-anchor="end" fill="#2a2a2a" transform="rotate(-40 466.10 288.00)" stroke="#2a2a2a" stroke-width="0.22">Kasumi-1</text>
<text x="485.00" y="288.00" font-size="8.6" text-anchor="end" fill="#2a2a2a" transform="rotate(-40 485.00 288.00)" stroke="#2a2a2a" stroke-width="0.22">OCI-AML3</text>
<text x="503.90" y="288.00" font-size="8.6" text-anchor="end" fill="#2a2a2a" transform="rotate(-40 503.90 288.00)" stroke="#2a2a2a" stroke-width="0.22">THP-1</text>
<path d="M382.00,181.60 L382.00,178.80 L393.50,178.80 L393.50,181.60" fill="none" stroke="#111" stroke-width="1.1"/>
<text x="387.75" y="176.00" font-size="8.3" text-anchor="middle" font-weight="normal" fill="#222"  stroke="#222" stroke-width="0.22">ns</text>
<path d="M399.00,181.60 L399.00,178.80 L410.80,178.80 L410.80,181.60" fill="none" stroke="#111" stroke-width="1.1"/>
<text x="404.90" y="176.00" font-size="8.3" text-anchor="middle" font-weight="normal" fill="#222"  stroke="#222" stroke-width="0.22">ns</text>
<line x1="419.00" y1="179.50" x2="431.20" y2="179.50" stroke="#111" stroke-width="1.3" />
<circle cx="425.10" cy="176.80" r="0.95" fill="#222" />
<line x1="421.00" y1="188.20" x2="428.10" y2="188.20" stroke="#111" stroke-width="1.3" />
<text x="424.55" y="186.60" font-size="8.3" text-anchor="middle" font-weight="normal" fill="#222"  stroke="#222" stroke-width="0.22">ns</text>
<line x1="426.10" y1="197.30" x2="434.20" y2="197.30" stroke="#111" stroke-width="1.3" />
<text x="430.15" y="195.70" font-size="8.3" text-anchor="middle" font-weight="normal" fill="#222"  stroke="#222" stroke-width="0.22">ns</text>
<line x1="437.20" y1="179.50" x2="450.40" y2="179.50" stroke="#111" stroke-width="1.3" />
<circle cx="440.35" cy="176.80" r="0.95" fill="#222" />
<circle cx="443.80" cy="176.80" r="0.95" fill="#222" />
<circle cx="447.25" cy="176.80" r="0.95" fill="#222" />
<line x1="438.20" y1="188.20" x2="445.30" y2="188.20" stroke="#111" stroke-width="1.3" />
<circle cx="440.02" cy="185.50" r="0.95" fill="#222" />
<circle cx="443.48" cy="185.50" r="0.95" fill="#222" />
<line x1="442.30" y1="197.30" x2="450.40" y2="197.30" stroke="#111" stroke-width="1.3" />
<text x="446.35" y="195.70" font-size="8.3" text-anchor="middle" font-weight="normal" fill="#222"  stroke="#222" stroke-width="0.22">ns</text>
<line x1="455.40" y1="179.50" x2="468.50" y2="179.50" stroke="#111" stroke-width="1.3" />
<circle cx="460.22" cy="176.80" r="0.95" fill="#222" />
<circle cx="463.68" cy="176.80" r="0.95" fill="#222" />
<line x1="458.40" y1="188.20" x2="466.50" y2="188.20" stroke="#111" stroke-width="1.3" />
<text x="462.45" y="186.60" font-size="8.3" text-anchor="middle" font-weight="normal" fill="#222"  stroke="#222" stroke-width="0.22">ns</text>
<line x1="462.50" y1="197.30" x2="470.60" y2="197.30" stroke="#111" stroke-width="1.3" />
<text x="466.55" y="195.70" font-size="8.3" text-anchor="middle" font-weight="normal" fill="#222"  stroke="#222" stroke-width="0.22">ns</text>
<line x1="475.60" y1="179.50" x2="487.70" y2="179.50" stroke="#111" stroke-width="1.3" />
<circle cx="479.92" cy="176.80" r="0.95" fill="#222" />
<circle cx="483.38" cy="176.80" r="0.95" fill="#222" />
<line x1="476.60" y1="188.20" x2="482.70" y2="188.20" stroke="#111" stroke-width="1.3" />
<circle cx="477.92" cy="185.50" r="0.95" fill="#222" />
<circle cx="481.38" cy="185.50" r="0.95" fill="#222" />
<line x1="479.60" y1="197.30" x2="487.70" y2="197.30" stroke="#111" stroke-width="1.3" />
<text x="483.65" y="195.70" font-size="8.3" text-anchor="middle" font-weight="normal" fill="#222"  stroke="#222" stroke-width="0.22">ns</text>
<line x1="493.80" y1="179.50" x2="507.00" y2="179.50" stroke="#111" stroke-width="1.3" />
<circle cx="495.22" cy="176.80" r="0.95" fill="#222" />
<circle cx="498.67" cy="176.80" r="0.95" fill="#222" />
<circle cx="502.12" cy="176.80" r="0.95" fill="#222" />
<circle cx="505.57" cy="176.80" r="0.95" fill="#222" />
<line x1="493.80" y1="188.20" x2="500.90" y2="188.20" stroke="#111" stroke-width="1.3" />
<circle cx="495.62" cy="185.50" r="0.95" fill="#222" />
<circle cx="499.08" cy="185.50" r="0.95" fill="#222" />
<line x1="499.80" y1="197.30" x2="507.00" y2="197.30" stroke="#111" stroke-width="1.3" />
<circle cx="501.67" cy="194.60" r="0.95" fill="#222" />
<circle cx="505.12" cy="194.60" r="0.95" fill="#222" />
<line x1="43.70" y1="199.61" x2="43.70" y2="279.80" stroke="#1a1a1a" stroke-width="1.0" />
<line x1="43.70" y1="279.80" x2="163.70" y2="279.80" stroke="#1a1a1a" stroke-width="1.0" />
<line x1="40.70" y1="279.80" x2="43.70" y2="279.80" stroke="#1a1a1a" stroke-width="1.0" />
<text x="38.70" y="282.90" font-size="8.5" text-anchor="end" font-weight="normal" fill="#2a2a2a"  stroke="#2a2a2a" stroke-width="0.22">0</text>
<line x1="40.70" y1="253.07" x2="43.70" y2="253.07" stroke="#1a1a1a" stroke-width="1.0" />
<text x="38.70" y="256.17" font-size="8.5" text-anchor="end" font-weight="normal" fill="#2a2a2a"  stroke="#2a2a2a" stroke-width="0.22">5,000</text>
<line x1="40.70" y1="226.34" x2="43.70" y2="226.34" stroke="#1a1a1a" stroke-width="1.0" />
<text x="38.70" y="229.44" font-size="8.5" text-anchor="end" font-weight="normal" fill="#2a2a2a"  stroke="#2a2a2a" stroke-width="0.22">10,000</text>
<line x1="40.70" y1="199.61" x2="43.70" y2="199.61" stroke="#1a1a1a" stroke-width="1.0" />
<text x="38.70" y="202.71" font-size="8.5" text-anchor="end" font-weight="normal" fill="#2a2a2a"  stroke="#2a2a2a" stroke-width="0.22">15,000</text>
<line x1="43.70" y1="279.80" x2="43.70" y2="282.60" stroke="#1a1a1a" stroke-width="0.9" />
<line x1="47.70" y1="279.80" x2="47.70" y2="281.80" stroke="#1a1a1a" stroke-width="0.75" />
<line x1="51.70" y1="279.80" x2="51.70" y2="281.80" stroke="#1a1a1a" stroke-width="0.75" />
<line x1="55.70" y1="279.80" x2="55.70" y2="281.80" stroke="#1a1a1a" stroke-width="0.75" />
<line x1="59.70" y1="279.80" x2="59.70" y2="281.80" stroke="#1a1a1a" stroke-width="0.75" />
<line x1="63.70" y1="279.80" x2="63.70" y2="281.80" stroke="#1a1a1a" stroke-width="0.75" />
<line x1="67.70" y1="279.80" x2="67.70" y2="281.80" stroke="#1a1a1a" stroke-width="0.75" />
<line x1="71.70" y1="279.80" x2="71.70" y2="281.80" stroke="#1a1a1a" stroke-width="0.75" />
<line x1="75.70" y1="279.80" x2="75.70" y2="281.80" stroke="#1a1a1a" stroke-width="0.75" />
<line x1="79.70" y1="279.80" x2="79.70" y2="281.80" stroke="#1a1a1a" stroke-width="0.75" />
<line x1="83.70" y1="279.80" x2="83.70" y2="282.60" stroke="#1a1a1a" stroke-width="0.9" />
<line x1="87.70" y1="279.80" x2="87.70" y2="281.80" stroke="#1a1a1a" stroke-width="0.75" />
<line x1="91.70" y1="279.80" x2="91.70" y2="281.80" stroke="#1a1a1a" stroke-width="0.75" />
<line x1="95.70" y1="279.80" x2="95.70" y2="281.80" stroke="#1a1a1a" stroke-width="0.75" />
<line x1="99.70" y1="279.80" x2="99.70" y2="281.80" stroke="#1a1a1a" stroke-width="0.75" />
<line x1="103.70" y1="279.80" x2="103.70" y2="281.80" stroke="#1a1a1a" stroke-width="0.75" />
<line x1="107.70" y1="279.80" x2="107.70" y2="281.80" stroke="#1a1a1a" stroke-width="0.75" />
<line x1="111.70" y1="279.80" x2="111.70" y2="281.80" stroke="#1a1a1a" stroke-width="0.75" />
<line x1="115.70" y1="279.80" x2="115.70" y2="281.80" stroke="#1a1a1a" stroke-width="0.75" />
<line x1="119.70" y1="279.80" x2="119.70" y2="281.80" stroke="#1a1a1a" stroke-width="0.75" />
<line x1="123.70" y1="279.80" x2="123.70" y2="282.60" stroke="#1a1a1a" stroke-width="0.9" />
<line x1="127.70" y1="279.80" x2="127.70" y2="281.80" stroke="#1a1a1a" stroke-width="0.75" />
<line x1="131.70" y1="279.80" x2="131.70" y2="281.80" stroke="#1a1a1a" stroke-width="0.75" />
<line x1="135.70" y1="279.80" x2="135.70" y2="281.80" stroke="#1a1a1a" stroke-width="0.75" />
<line x1="139.70" y1="279.80" x2="139.70" y2="281.80" stroke="#1a1a1a" stroke-width="0.75" />
<line x1="143.70" y1="279.80" x2="143.70" y2="281.80" stroke="#1a1a1a" stroke-width="0.75" />
<line x1="147.70" y1="279.80" x2="147.70" y2="281.80" stroke="#1a1a1a" stroke-width="0.75" />
<line x1="151.70" y1="279.80" x2="151.70" y2="281.80" stroke="#1a1a1a" stroke-width="0.75" />
<line x1="155.70" y1="279.80" x2="155.70" y2="281.80" stroke="#1a1a1a" stroke-width="0.75" />
<line x1="159.70" y1="279.80" x2="159.70" y2="281.80" stroke="#1a1a1a" stroke-width="0.75" />
<line x1="163.70" y1="279.80" x2="163.70" y2="282.60" stroke="#1a1a1a" stroke-width="0.9" />
<text x="43.70" y="291.60" font-size="8.6" text-anchor="middle" font-weight="normal" fill="#2a2a2a"  stroke="#2a2a2a" stroke-width="0.22">0</text>
<text x="83.70" y="291.60" font-size="8.6" text-anchor="middle" font-weight="normal" fill="#2a2a2a"  stroke="#2a2a2a" stroke-width="0.22">20</text>
<text x="123.70" y="291.60" font-size="8.6" text-anchor="middle" font-weight="normal" fill="#2a2a2a"  stroke="#2a2a2a" stroke-width="0.22">40</text>
<text x="163.70" y="291.60" font-size="8.6" text-anchor="middle" font-weight="normal" fill="#2a2a2a"  stroke="#2a2a2a" stroke-width="0.22">60</text>
<line x1="49.70" y1="278.90" x2="139.70" y2="215.40" stroke="#98a0bc" stroke-width="0.9"/>
<rect x="48.20" y="273.20" width="3.00" height="3.00" fill="#2e3c88" />
<rect x="106.70" y="247.30" width="3.00" height="3.00" fill="#2e3c88" />
<rect x="108.70" y="239.20" width="3.00" height="3.00" fill="#2e3c88" />
<rect x="131.80" y="201.30" width="3.00" height="3.00" fill="#2e3c88" />
<rect x="138.20" y="218.90" width="3.00" height="3.00" fill="#2e3c88" />
<text x="104.00" y="191.20" font-size="8.6" text-anchor="middle" font-weight="normal" fill="#2a2a2a"  stroke="#2a2a2a" stroke-width="0.22">CD93–28z</text>
<text x="121.20" y="266.80" font-size="8.5" fill="#2a2a2a" stroke="#2a2a2a" stroke-width="0.22"><tspan font-style="italic">r</tspan> = 0.9160*</text>
<text x="103.70" y="304.60" font-size="8.6" text-anchor="middle" font-weight="normal" fill="#2a2a2a"  stroke="#2a2a2a" stroke-width="0.22">CD93 expression (fold vs. HEL-2)</text>
<line x1="204.80" y1="199.90" x2="204.80" y2="279.70" stroke="#1a1a1a" stroke-width="1.0" />
<line x1="204.80" y1="279.70" x2="324.50" y2="279.70" stroke="#1a1a1a" stroke-width="1.0" />
<line x1="201.80" y1="279.70" x2="204.80" y2="279.70" stroke="#1a1a1a" stroke-width="1.0" />
<text x="199.80" y="282.80" font-size="8.5" text-anchor="end" font-weight="normal" fill="#2a2a2a"  stroke="#2a2a2a" stroke-width="0.22">0</text>
<line x1="201.80" y1="253.10" x2="204.80" y2="253.10" stroke="#1a1a1a" stroke-width="1.0" />
<text x="199.80" y="256.20" font-size="8.5" text-anchor="end" font-weight="normal" fill="#2a2a2a"  stroke="#2a2a2a" stroke-width="0.22">5,000</text>
<line x1="201.80" y1="226.50" x2="204.80" y2="226.50" stroke="#1a1a1a" stroke-width="1.0" />
<text x="199.80" y="229.60" font-size="8.5" text-anchor="end" font-weight="normal" fill="#2a2a2a"  stroke="#2a2a2a" stroke-width="0.22">10,000</text>
<line x1="201.80" y1="199.90" x2="204.80" y2="199.90" stroke="#1a1a1a" stroke-width="1.0" />
<text x="199.80" y="203.00" font-size="8.5" text-anchor="end" font-weight="normal" fill="#2a2a2a"  stroke="#2a2a2a" stroke-width="0.22">15,000</text>
<line x1="204.80" y1="279.70" x2="204.80" y2="282.50" stroke="#1a1a1a" stroke-width="0.9" />
<line x1="208.79" y1="279.70" x2="208.79" y2="281.70" stroke="#1a1a1a" stroke-width="0.75" />
<line x1="212.78" y1="279.70" x2="212.78" y2="281.70" stroke="#1a1a1a" stroke-width="0.75" />
<line x1="216.77" y1="279.70" x2="216.77" y2="281.70" stroke="#1a1a1a" stroke-width="0.75" />
<line x1="220.76" y1="279.70" x2="220.76" y2="281.70" stroke="#1a1a1a" stroke-width="0.75" />
<line x1="224.75" y1="279.70" x2="224.75" y2="281.70" stroke="#1a1a1a" stroke-width="0.75" />
<line x1="228.74" y1="279.70" x2="228.74" y2="281.70" stroke="#1a1a1a" stroke-width="0.75" />
<line x1="232.73" y1="279.70" x2="232.73" y2="281.70" stroke="#1a1a1a" stroke-width="0.75" />
<line x1="236.72" y1="279.70" x2="236.72" y2="281.70" stroke="#1a1a1a" stroke-width="0.75" />
<line x1="240.71" y1="279.70" x2="240.71" y2="281.70" stroke="#1a1a1a" stroke-width="0.75" />
<line x1="244.70" y1="279.70" x2="244.70" y2="282.50" stroke="#1a1a1a" stroke-width="0.9" />
<line x1="248.69" y1="279.70" x2="248.69" y2="281.70" stroke="#1a1a1a" stroke-width="0.75" />
<line x1="252.68" y1="279.70" x2="252.68" y2="281.70" stroke="#1a1a1a" stroke-width="0.75" />
<line x1="256.67" y1="279.70" x2="256.67" y2="281.70" stroke="#1a1a1a" stroke-width="0.75" />
<line x1="260.66" y1="279.70" x2="260.66" y2="281.70" stroke="#1a1a1a" stroke-width="0.75" />
<line x1="264.65" y1="279.70" x2="264.65" y2="281.70" stroke="#1a1a1a" stroke-width="0.75" />
<line x1="268.64" y1="279.70" x2="268.64" y2="281.70" stroke="#1a1a1a" stroke-width="0.75" />
<line x1="272.63" y1="279.70" x2="272.63" y2="281.70" stroke="#1a1a1a" stroke-width="0.75" />
<line x1="276.62" y1="279.70" x2="276.62" y2="281.70" stroke="#1a1a1a" stroke-width="0.75" />
<line x1="280.61" y1="279.70" x2="280.61" y2="281.70" stroke="#1a1a1a" stroke-width="0.75" />
<line x1="284.60" y1="279.70" x2="284.60" y2="282.50" stroke="#1a1a1a" stroke-width="0.9" />
<line x1="288.59" y1="279.70" x2="288.59" y2="281.70" stroke="#1a1a1a" stroke-width="0.75" />
<line x1="292.58" y1="279.70" x2="292.58" y2="281.70" stroke="#1a1a1a" stroke-width="0.75" />
<line x1="296.57" y1="279.70" x2="296.57" y2="281.70" stroke="#1a1a1a" stroke-width="0.75" />
<line x1="300.56" y1="279.70" x2="300.56" y2="281.70" stroke="#1a1a1a" stroke-width="0.75" />
<line x1="304.55" y1="279.70" x2="304.55" y2="281.70" stroke="#1a1a1a" stroke-width="0.75" />
<line x1="308.54" y1="279.70" x2="308.54" y2="281.70" stroke="#1a1a1a" stroke-width="0.75" />
<line x1="312.53" y1="279.70" x2="312.53" y2="281.70" stroke="#1a1a1a" stroke-width="0.75" />
<line x1="316.52" y1="279.70" x2="316.52" y2="281.70" stroke="#1a1a1a" stroke-width="0.75" />
<line x1="320.51" y1="279.70" x2="320.51" y2="281.70" stroke="#1a1a1a" stroke-width="0.75" />
<line x1="324.50" y1="279.70" x2="324.50" y2="282.50" stroke="#1a1a1a" stroke-width="0.9" />
<text x="204.80" y="291.50" font-size="8.6" text-anchor="middle" font-weight="normal" fill="#2a2a2a"  stroke="#2a2a2a" stroke-width="0.22">0</text>
<text x="244.70" y="291.50" font-size="8.6" text-anchor="middle" font-weight="normal" fill="#2a2a2a"  stroke="#2a2a2a" stroke-width="0.22">20</text>
<text x="284.60" y="291.50" font-size="8.6" text-anchor="middle" font-weight="normal" fill="#2a2a2a"  stroke="#2a2a2a" stroke-width="0.22">40</text>
<text x="324.50" y="291.50" font-size="8.6" text-anchor="middle" font-weight="normal" fill="#2a2a2a"  stroke="#2a2a2a" stroke-width="0.22">60</text>
<line x1="211.20" y1="270.50" x2="301.40" y2="222.90" stroke="#cbb3c4" stroke-width="0.9"/>
<rect x="209.70" y="262.10" width="3.00" height="3.00" fill="#6a2a72" />
<rect x="267.90" y="242.00" width="3.00" height="3.00" fill="#6a2a72" />
<rect x="269.60" y="255.20" width="3.00" height="3.00" fill="#6a2a72" />
<rect x="292.70" y="218.90" width="3.00" height="3.00" fill="#6a2a72" />
<rect x="299.30" y="212.50" width="3.00" height="3.00" fill="#6a2a72" />
<text x="265.40" y="191.20" font-size="8.6" text-anchor="middle" font-weight="normal" fill="#2a2a2a"  stroke="#2a2a2a" stroke-width="0.22">CD93–BBz</text>
<text x="284.90" y="268.60" font-size="8.5" fill="#2a2a2a" stroke="#2a2a2a" stroke-width="0.22"><tspan font-style="italic">r</tspan> = 0.8547</text>
<text x="264.65" y="304.60" font-size="8.6" text-anchor="middle" font-weight="normal" fill="#2a2a2a"  stroke="#2a2a2a" stroke-width="0.22">CD93 expression (fold vs. HEL-2)</text>
<text x="7.4" y="237.6" font-size="8.2" text-anchor="middle" fill="#2a2a2a" transform="rotate(-90 7.4 237.6)" stroke="#2a2a2a" stroke-width="0.22">IL2 (pg/mL)</text>
<text x="14.9" y="398.2" font-size="8.2" text-anchor="middle" fill="#2a2a2a" transform="rotate(-90 14.9 398.2)" stroke="#2a2a2a" stroke-width="0.22">Fold change GFP</text>
<line x1="31.20" y1="354.22" x2="31.20" y2="440.30" stroke="#1a1a1a" stroke-width="1.0" />
<line x1="31.20" y1="440.30" x2="162.00" y2="440.30" stroke="#1a1a1a" stroke-width="1.1" />
<line x1="28.20" y1="440.30" x2="31.20" y2="440.30" stroke="#1a1a1a" stroke-width="1.0" />
<text x="26.60" y="443.40" font-size="8.6" text-anchor="end" font-weight="normal" fill="#2a2a2a"  stroke="#2a2a2a" stroke-width="0.22">0</text>
<line x1="31.20" y1="440.30" x2="31.20" y2="442.90" stroke="#1a1a1a" stroke-width="1.0" />
<text x="31.20" y="452.90" font-size="8.6" text-anchor="middle" font-weight="normal" fill="#2a2a2a"  stroke="#2a2a2a" stroke-width="0.22">0</text>
<line x1="28.20" y1="418.78" x2="31.20" y2="418.78" stroke="#1a1a1a" stroke-width="1.0" />
<text x="26.60" y="421.88" font-size="8.6" text-anchor="end" font-weight="normal" fill="#2a2a2a"  stroke="#2a2a2a" stroke-width="0.22">2</text>
<line x1="63.90" y1="440.30" x2="63.90" y2="442.90" stroke="#1a1a1a" stroke-width="1.0" />
<text x="63.90" y="452.90" font-size="8.6" text-anchor="middle" font-weight="normal" fill="#2a2a2a"  stroke="#2a2a2a" stroke-width="0.22">24</text>
<line x1="28.20" y1="397.26" x2="31.20" y2="397.26" stroke="#1a1a1a" stroke-width="1.0" />
<text x="26.60" y="400.36" font-size="8.6" text-anchor="end" font-weight="normal" fill="#2a2a2a"  stroke="#2a2a2a" stroke-width="0.22">4</text>
<line x1="96.60" y1="440.30" x2="96.60" y2="442.90" stroke="#1a1a1a" stroke-width="1.0" />
<text x="96.60" y="452.90" font-size="8.6" text-anchor="middle" font-weight="normal" fill="#2a2a2a"  stroke="#2a2a2a" stroke-width="0.22">48</text>
<line x1="28.20" y1="375.74" x2="31.20" y2="375.74" stroke="#1a1a1a" stroke-width="1.0" />
<text x="26.60" y="378.84" font-size="8.6" text-anchor="end" font-weight="normal" fill="#2a2a2a"  stroke="#2a2a2a" stroke-width="0.22">6</text>
<line x1="129.30" y1="440.30" x2="129.30" y2="442.90" stroke="#1a1a1a" stroke-width="1.0" />
<text x="129.30" y="452.90" font-size="8.6" text-anchor="middle" font-weight="normal" fill="#2a2a2a"  stroke="#2a2a2a" stroke-width="0.22">72</text>
<line x1="28.20" y1="354.22" x2="31.20" y2="354.22" stroke="#1a1a1a" stroke-width="1.0" />
<text x="26.60" y="357.32" font-size="8.6" text-anchor="end" font-weight="normal" fill="#2a2a2a"  stroke="#2a2a2a" stroke-width="0.22">8</text>
<line x1="162.00" y1="440.30" x2="162.00" y2="442.90" stroke="#1a1a1a" stroke-width="1.0" />
<text x="162.00" y="452.90" font-size="8.6" text-anchor="middle" font-weight="normal" fill="#2a2a2a"  stroke="#2a2a2a" stroke-width="0.22">96</text>
<text x="95.30" y="342.40" font-size="8.9" text-anchor="middle" font-weight="normal" fill="#2a2a2a"  stroke="#2a2a2a" stroke-width="0.22">Kasumi-1</text>
<text x="96.60" y="464.80" font-size="8.6" text-anchor="middle" font-weight="normal" fill="#2a2a2a"  stroke="#2a2a2a" stroke-width="0.22">Hours</text>
<rect x="34.09" y="428.34" width="2.40" height="2.40" fill="#8a86c0" />
<rect x="38.17" y="428.88" width="2.40" height="2.40" fill="#8a86c0" />
<rect x="42.26" y="429.42" width="2.40" height="2.40" fill="#8a86c0" />
<rect x="46.35" y="429.95" width="2.40" height="2.40" fill="#8a86c0" />
<rect x="50.44" y="430.63" width="2.40" height="2.40" fill="#8a86c0" />
<rect x="54.52" y="431.30" width="2.40" height="2.40" fill="#8a86c0" />
<rect x="58.61" y="431.97" width="2.40" height="2.40" fill="#8a86c0" />
<rect x="62.70" y="432.64" width="2.40" height="2.40" fill="#8a86c0" />
<rect x="66.79" y="433.13" width="2.40" height="2.40" fill="#8a86c0" />
<rect x="70.88" y="433.61" width="2.40" height="2.40" fill="#8a86c0" />
<rect x="74.96" y="434.10" width="2.40" height="2.40" fill="#8a86c0" />
<rect x="79.05" y="434.58" width="2.40" height="2.40" fill="#8a86c0" />
<rect x="83.14" y="434.85" width="2.40" height="2.40" fill="#8a86c0" />
<rect x="87.23" y="435.12" width="2.40" height="2.40" fill="#8a86c0" />
<rect x="91.31" y="435.39" width="2.40" height="2.40" fill="#8a86c0" />
<rect x="95.40" y="435.66" width="2.40" height="2.40" fill="#8a86c0" />
<rect x="99.49" y="435.87" width="2.40" height="2.40" fill="#8a86c0" />
<rect x="103.58" y="436.09" width="2.40" height="2.40" fill="#8a86c0" />
<rect x="107.66" y="436.30" width="2.40" height="2.40" fill="#8a86c0" />
<rect x="111.75" y="436.52" width="2.40" height="2.40" fill="#8a86c0" />
<rect x="115.84" y="436.73" width="2.40" height="2.40" fill="#8a86c0" />
<rect x="119.93" y="436.95" width="2.40" height="2.40" fill="#8a86c0" />
<rect x="124.01" y="437.16" width="2.40" height="2.40" fill="#8a86c0" />
<rect x="128.10" y="437.38" width="2.40" height="2.40" fill="#8a86c0" />
<rect x="34.04" y="428.29" width="2.50" height="2.50" fill="#3d4ea0" />
<rect x="38.12" y="429.01" width="2.50" height="2.50" fill="#3d4ea0" />
<rect x="42.21" y="429.72" width="2.50" height="2.50" fill="#3d4ea0" />
<rect x="46.30" y="430.44" width="2.50" height="2.50" fill="#3d4ea0" />
<rect x="50.39" y="431.11" width="2.50" height="2.50" fill="#3d4ea0" />
<rect x="54.48" y="431.79" width="2.50" height="2.50" fill="#3d4ea0" />
<rect x="58.56" y="432.46" width="2.50" height="2.50" fill="#3d4ea0" />
<rect x="62.65" y="433.13" width="2.50" height="2.50" fill="#3d4ea0" />
<rect x="66.74" y="433.54" width="2.50" height="2.50" fill="#3d4ea0" />
<rect x="70.83" y="433.94" width="2.50" height="2.50" fill="#3d4ea0" />
<rect x="74.91" y="434.34" width="2.50" height="2.50" fill="#3d4ea0" />
<rect x="79.00" y="434.75" width="2.50" height="2.50" fill="#3d4ea0" />
<rect x="83.09" y="435.01" width="2.50" height="2.50" fill="#3d4ea0" />
<rect x="87.18" y="435.28" width="2.50" height="2.50" fill="#3d4ea0" />
<rect x="91.26" y="435.55" width="2.50" height="2.50" fill="#3d4ea0" />
<rect x="95.35" y="435.82" width="2.50" height="2.50" fill="#3d4ea0" />
<rect x="99.44" y="436.04" width="2.50" height="2.50" fill="#3d4ea0" />
<rect x="103.53" y="436.25" width="2.50" height="2.50" fill="#3d4ea0" />
<rect x="107.61" y="436.47" width="2.50" height="2.50" fill="#3d4ea0" />
<rect x="111.70" y="436.68" width="2.50" height="2.50" fill="#3d4ea0" />
<rect x="115.79" y="436.90" width="2.50" height="2.50" fill="#3d4ea0" />
<rect x="119.88" y="437.11" width="2.50" height="2.50" fill="#3d4ea0" />
<rect x="123.96" y="437.33" width="2.50" height="2.50" fill="#3d4ea0" />
<rect x="128.05" y="437.54" width="2.50" height="2.50" fill="#3d4ea0" />
<rect x="33.99" y="428.24" width="2.60" height="2.60" fill="#111" />
<rect x="38.08" y="427.88" width="2.60" height="2.60" fill="#111" />
<rect x="42.16" y="427.52" width="2.60" height="2.60" fill="#111" />
<rect x="46.25" y="427.16" width="2.60" height="2.60" fill="#111" />
<rect x="50.34" y="426.49" width="2.60" height="2.60" fill="#111" />
<rect x="54.43" y="425.82" width="2.60" height="2.60" fill="#111" />
<rect x="58.51" y="425.15" width="2.60" height="2.60" fill="#111" />
<rect x="62.60" y="424.47" width="2.60" height="2.60" fill="#111" />
<rect x="66.69" y="423.80" width="2.60" height="2.60" fill="#111" />
<rect x="70.78" y="423.13" width="2.60" height="2.60" fill="#111" />
<rect x="74.86" y="422.46" width="2.60" height="2.60" fill="#111" />
<line x1="80.25" y1="422.01" x2="80.25" y2="424.16" stroke="#222" stroke-width="0.6" />
<line x1="79.15" y1="422.01" x2="81.35" y2="422.01" stroke="#222" stroke-width="0.6" />
<line x1="79.15" y1="424.16" x2="81.35" y2="424.16" stroke="#222" stroke-width="0.6" />
<rect x="78.95" y="421.78" width="2.60" height="2.60" fill="#111" />
<line x1="84.34" y1="420.80" x2="84.34" y2="423.49" stroke="#222" stroke-width="0.6" />
<line x1="83.24" y1="420.80" x2="85.44" y2="420.80" stroke="#222" stroke-width="0.6" />
<line x1="83.24" y1="423.49" x2="85.44" y2="423.49" stroke="#222" stroke-width="0.6" />
<rect x="83.04" y="420.84" width="2.60" height="2.60" fill="#111" />
<line x1="88.43" y1="419.59" x2="88.43" y2="422.81" stroke="#222" stroke-width="0.6" />
<line x1="87.33" y1="419.59" x2="89.53" y2="419.59" stroke="#222" stroke-width="0.6" />
<line x1="87.33" y1="422.81" x2="89.53" y2="422.81" stroke="#222" stroke-width="0.6" />
<rect x="87.13" y="419.90" width="2.60" height="2.60" fill="#111" />
<line x1="92.51" y1="418.38" x2="92.51" y2="422.14" stroke="#222" stroke-width="0.6" />
<line x1="91.41" y1="418.38" x2="93.61" y2="418.38" stroke="#222" stroke-width="0.6" />
<line x1="91.41" y1="422.14" x2="93.61" y2="422.14" stroke="#222" stroke-width="0.6" />
<rect x="91.21" y="418.96" width="2.60" height="2.60" fill="#111" />
<line x1="96.60" y1="417.17" x2="96.60" y2="421.47" stroke="#222" stroke-width="0.6" />
<line x1="95.50" y1="417.17" x2="97.70" y2="417.17" stroke="#222" stroke-width="0.6" />
<line x1="95.50" y1="421.47" x2="97.70" y2="421.47" stroke="#222" stroke-width="0.6" />
<rect x="95.30" y="418.02" width="2.60" height="2.60" fill="#111" />
<line x1="100.69" y1="415.96" x2="100.69" y2="420.80" stroke="#222" stroke-width="0.6" />
<line x1="99.59" y1="415.96" x2="101.79" y2="415.96" stroke="#222" stroke-width="0.6" />
<line x1="99.59" y1="420.80" x2="101.79" y2="420.80" stroke="#222" stroke-width="0.6" />
<rect x="99.39" y="417.08" width="2.60" height="2.60" fill="#111" />
<line x1="104.78" y1="414.75" x2="104.78" y2="420.12" stroke="#222" stroke-width="0.6" />
<line x1="103.68" y1="414.75" x2="105.88" y2="414.75" stroke="#222" stroke-width="0.6" />
<line x1="103.68" y1="420.12" x2="105.88" y2="420.12" stroke="#222" stroke-width="0.6" />
<rect x="103.48" y="416.13" width="2.60" height="2.60" fill="#111" />
<line x1="108.86" y1="413.53" x2="108.86" y2="419.45" stroke="#222" stroke-width="0.6" />
<line x1="107.76" y1="413.53" x2="109.96" y2="413.53" stroke="#222" stroke-width="0.6" />
<line x1="107.76" y1="419.45" x2="109.96" y2="419.45" stroke="#222" stroke-width="0.6" />
<rect x="107.56" y="415.19" width="2.60" height="2.60" fill="#111" />
<line x1="112.95" y1="412.32" x2="112.95" y2="418.78" stroke="#222" stroke-width="0.6" />
<line x1="111.85" y1="412.32" x2="114.05" y2="412.32" stroke="#222" stroke-width="0.6" />
<line x1="111.85" y1="418.78" x2="114.05" y2="418.78" stroke="#222" stroke-width="0.6" />
<rect x="111.65" y="414.25" width="2.60" height="2.60" fill="#111" />
<line x1="117.04" y1="411.88" x2="117.04" y2="418.87" stroke="#222" stroke-width="0.6" />
<line x1="115.94" y1="411.88" x2="118.14" y2="411.88" stroke="#222" stroke-width="0.6" />
<line x1="115.94" y1="418.87" x2="118.14" y2="418.87" stroke="#222" stroke-width="0.6" />
<rect x="115.74" y="414.07" width="2.60" height="2.60" fill="#111" />
<line x1="121.13" y1="411.43" x2="121.13" y2="418.96" stroke="#222" stroke-width="0.6" />
<line x1="120.03" y1="411.43" x2="122.23" y2="411.43" stroke="#222" stroke-width="0.6" />
<line x1="120.03" y1="418.96" x2="122.23" y2="418.96" stroke="#222" stroke-width="0.6" />
<rect x="119.83" y="413.89" width="2.60" height="2.60" fill="#111" />
<line x1="125.21" y1="410.98" x2="125.21" y2="419.05" stroke="#222" stroke-width="0.6" />
<line x1="124.11" y1="410.98" x2="126.31" y2="410.98" stroke="#222" stroke-width="0.6" />
<line x1="124.11" y1="419.05" x2="126.31" y2="419.05" stroke="#222" stroke-width="0.6" />
<rect x="123.91" y="413.71" width="2.60" height="2.60" fill="#111" />
<line x1="129.30" y1="412.32" x2="129.30" y2="420.93" stroke="#222" stroke-width="0.6" />
<line x1="128.20" y1="412.32" x2="130.40" y2="412.32" stroke="#222" stroke-width="0.6" />
<line x1="128.20" y1="420.93" x2="130.40" y2="420.93" stroke="#222" stroke-width="0.6" />
<rect x="128.00" y="415.33" width="2.60" height="2.60" fill="#111" />
<circle cx="37.30" cy="361.00" r="1.2" fill="#111" />
<circle cx="37.30" cy="370.20" r="1.1" fill="#3d4ea0" />
<circle cx="37.30" cy="379.00" r="1.0" fill="#8a86c0" />
<text x="43.90" y="364.60" font-size="6.7" text-anchor="start" font-weight="normal" fill="#222"  stroke="#222" stroke-width="0.22">Mock</text>
<text x="43.90" y="373.60" font-size="6.7" text-anchor="start" font-weight="normal" fill="#222"  stroke="#222" stroke-width="0.22">CD93–28z</text>
<text x="43.90" y="382.60" font-size="6.7" text-anchor="start" font-weight="normal" fill="#222"  stroke="#222" stroke-width="0.22">CD93–BBz</text>
<line x1="80.80" y1="358.30" x2="80.80" y2="368.60" stroke="#111" stroke-width="1.5" />
<line x1="80.80" y1="371.40" x2="80.80" y2="382.60" stroke="#111" stroke-width="1.5" />
<line x1="95.80" y1="358.30" x2="95.80" y2="382.60" stroke="#111" stroke-width="1.5" />
<circle cx="84.80" cy="363.20" r="0.72" fill="#222" />
<circle cx="99.80" cy="370.00" r="0.72" fill="#222" />
<circle cx="87.30" cy="363.20" r="0.72" fill="#222" />
<circle cx="102.30" cy="370.00" r="0.72" fill="#222" />
<circle cx="89.80" cy="363.20" r="0.72" fill="#222" />
<circle cx="104.80" cy="370.00" r="0.72" fill="#222" />
<circle cx="92.30" cy="363.20" r="0.72" fill="#222" />
<circle cx="107.30" cy="370.00" r="0.72" fill="#222" />
<text x="88.40" y="380.00" font-size="7.2" text-anchor="middle" font-weight="normal" fill="#222"  stroke="#222" stroke-width="0.22">ns</text>
<line x1="206.70" y1="353.08" x2="206.70" y2="439.80" stroke="#1a1a1a" stroke-width="1.0" />
<line x1="206.70" y1="439.80" x2="337.50" y2="439.80" stroke="#1a1a1a" stroke-width="1.1" />
<line x1="203.70" y1="439.80" x2="206.70" y2="439.80" stroke="#1a1a1a" stroke-width="1.0" />
<text x="202.10" y="442.90" font-size="8.6" text-anchor="end" font-weight="normal" fill="#2a2a2a"  stroke="#2a2a2a" stroke-width="0.22">0</text>
<line x1="206.70" y1="439.80" x2="206.70" y2="442.40" stroke="#1a1a1a" stroke-width="1.0" />
<text x="206.70" y="452.40" font-size="8.6" text-anchor="middle" font-weight="normal" fill="#2a2a2a"  stroke="#2a2a2a" stroke-width="0.22">0</text>
<line x1="203.70" y1="418.12" x2="206.70" y2="418.12" stroke="#1a1a1a" stroke-width="1.0" />
<text x="202.10" y="421.22" font-size="8.6" text-anchor="end" font-weight="normal" fill="#2a2a2a"  stroke="#2a2a2a" stroke-width="0.22">2</text>
<line x1="239.40" y1="439.80" x2="239.40" y2="442.40" stroke="#1a1a1a" stroke-width="1.0" />
<text x="239.40" y="452.40" font-size="8.6" text-anchor="middle" font-weight="normal" fill="#2a2a2a"  stroke="#2a2a2a" stroke-width="0.22">24</text>
<line x1="203.70" y1="396.44" x2="206.70" y2="396.44" stroke="#1a1a1a" stroke-width="1.0" />
<text x="202.10" y="399.54" font-size="8.6" text-anchor="end" font-weight="normal" fill="#2a2a2a"  stroke="#2a2a2a" stroke-width="0.22">4</text>
<line x1="272.10" y1="439.80" x2="272.10" y2="442.40" stroke="#1a1a1a" stroke-width="1.0" />
<text x="272.10" y="452.40" font-size="8.6" text-anchor="middle" font-weight="normal" fill="#2a2a2a"  stroke="#2a2a2a" stroke-width="0.22">48</text>
<line x1="203.70" y1="374.76" x2="206.70" y2="374.76" stroke="#1a1a1a" stroke-width="1.0" />
<text x="202.10" y="377.86" font-size="8.6" text-anchor="end" font-weight="normal" fill="#2a2a2a"  stroke="#2a2a2a" stroke-width="0.22">6</text>
<line x1="304.80" y1="439.80" x2="304.80" y2="442.40" stroke="#1a1a1a" stroke-width="1.0" />
<text x="304.80" y="452.40" font-size="8.6" text-anchor="middle" font-weight="normal" fill="#2a2a2a"  stroke="#2a2a2a" stroke-width="0.22">72</text>
<line x1="203.70" y1="353.08" x2="206.70" y2="353.08" stroke="#1a1a1a" stroke-width="1.0" />
<text x="202.10" y="356.18" font-size="8.6" text-anchor="end" font-weight="normal" fill="#2a2a2a"  stroke="#2a2a2a" stroke-width="0.22">8</text>
<line x1="337.50" y1="439.80" x2="337.50" y2="442.40" stroke="#1a1a1a" stroke-width="1.0" />
<text x="337.50" y="452.40" font-size="8.6" text-anchor="middle" font-weight="normal" fill="#2a2a2a"  stroke="#2a2a2a" stroke-width="0.22">96</text>
<text x="272.10" y="342.40" font-size="8.9" text-anchor="middle" font-weight="normal" fill="#2a2a2a"  stroke="#2a2a2a" stroke-width="0.22">OCI-AML3</text>
<text x="272.10" y="464.80" font-size="8.6" text-anchor="middle" font-weight="normal" fill="#2a2a2a"  stroke="#2a2a2a" stroke-width="0.22">Hours</text>
<rect x="209.59" y="427.76" width="2.40" height="2.40" fill="#8a86c0" />
<rect x="213.68" y="428.05" width="2.40" height="2.40" fill="#8a86c0" />
<rect x="217.76" y="428.34" width="2.40" height="2.40" fill="#8a86c0" />
<rect x="221.85" y="428.63" width="2.40" height="2.40" fill="#8a86c0" />
<rect x="225.94" y="429.22" width="2.40" height="2.40" fill="#8a86c0" />
<rect x="230.03" y="429.82" width="2.40" height="2.40" fill="#8a86c0" />
<rect x="234.11" y="430.42" width="2.40" height="2.40" fill="#8a86c0" />
<rect x="238.20" y="431.01" width="2.40" height="2.40" fill="#8a86c0" />
<rect x="242.29" y="431.61" width="2.40" height="2.40" fill="#8a86c0" />
<rect x="246.38" y="432.20" width="2.40" height="2.40" fill="#8a86c0" />
<rect x="250.46" y="432.80" width="2.40" height="2.40" fill="#8a86c0" />
<rect x="254.55" y="433.40" width="2.40" height="2.40" fill="#8a86c0" />
<rect x="258.64" y="433.83" width="2.40" height="2.40" fill="#8a86c0" />
<rect x="262.73" y="434.26" width="2.40" height="2.40" fill="#8a86c0" />
<rect x="266.81" y="434.70" width="2.40" height="2.40" fill="#8a86c0" />
<rect x="270.90" y="435.13" width="2.40" height="2.40" fill="#8a86c0" />
<rect x="274.99" y="435.38" width="2.40" height="2.40" fill="#8a86c0" />
<line x1="280.27" y1="435.19" x2="280.27" y2="438.44" stroke="#8a86c0" stroke-width="0.6" />
<line x1="279.27" y1="435.19" x2="281.27" y2="435.19" stroke="#8a86c0" stroke-width="0.6" />
<line x1="279.27" y1="438.44" x2="281.27" y2="438.44" stroke="#8a86c0" stroke-width="0.6" />
<rect x="279.07" y="435.62" width="2.40" height="2.40" fill="#8a86c0" />
<line x1="284.36" y1="435.44" x2="284.36" y2="438.69" stroke="#8a86c0" stroke-width="0.6" />
<line x1="283.36" y1="435.44" x2="285.36" y2="435.44" stroke="#8a86c0" stroke-width="0.6" />
<line x1="283.36" y1="438.69" x2="285.36" y2="438.69" stroke="#8a86c0" stroke-width="0.6" />
<rect x="283.16" y="435.86" width="2.40" height="2.40" fill="#8a86c0" />
<line x1="288.45" y1="435.68" x2="288.45" y2="438.93" stroke="#8a86c0" stroke-width="0.6" />
<line x1="287.45" y1="435.68" x2="289.45" y2="435.68" stroke="#8a86c0" stroke-width="0.6" />
<line x1="287.45" y1="438.93" x2="289.45" y2="438.93" stroke="#8a86c0" stroke-width="0.6" />
<rect x="287.25" y="436.11" width="2.40" height="2.40" fill="#8a86c0" />
<line x1="292.54" y1="435.92" x2="292.54" y2="439.18" stroke="#8a86c0" stroke-width="0.6" />
<line x1="291.54" y1="435.92" x2="293.54" y2="435.92" stroke="#8a86c0" stroke-width="0.6" />
<line x1="291.54" y1="439.18" x2="293.54" y2="439.18" stroke="#8a86c0" stroke-width="0.6" />
<rect x="291.34" y="436.35" width="2.40" height="2.40" fill="#8a86c0" />
<line x1="296.62" y1="436.17" x2="296.62" y2="439.42" stroke="#8a86c0" stroke-width="0.6" />
<line x1="295.62" y1="436.17" x2="297.62" y2="436.17" stroke="#8a86c0" stroke-width="0.6" />
<line x1="295.62" y1="439.42" x2="297.62" y2="439.42" stroke="#8a86c0" stroke-width="0.6" />
<rect x="295.43" y="436.59" width="2.40" height="2.40" fill="#8a86c0" />
<line x1="300.71" y1="436.41" x2="300.71" y2="439.66" stroke="#8a86c0" stroke-width="0.6" />
<line x1="299.71" y1="436.41" x2="301.71" y2="436.41" stroke="#8a86c0" stroke-width="0.6" />
<line x1="299.71" y1="439.66" x2="301.71" y2="439.66" stroke="#8a86c0" stroke-width="0.6" />
<rect x="299.51" y="436.84" width="2.40" height="2.40" fill="#8a86c0" />
<line x1="304.80" y1="436.66" x2="304.80" y2="439.91" stroke="#8a86c0" stroke-width="0.6" />
<line x1="303.80" y1="436.66" x2="305.80" y2="436.66" stroke="#8a86c0" stroke-width="0.6" />
<line x1="303.80" y1="439.91" x2="305.80" y2="439.91" stroke="#8a86c0" stroke-width="0.6" />
<rect x="303.60" y="437.08" width="2.40" height="2.40" fill="#8a86c0" />
<rect x="209.54" y="427.71" width="2.50" height="2.50" fill="#3d4ea0" />
<rect x="213.62" y="428.07" width="2.50" height="2.50" fill="#3d4ea0" />
<rect x="217.71" y="428.43" width="2.50" height="2.50" fill="#3d4ea0" />
<rect x="221.80" y="428.79" width="2.50" height="2.50" fill="#3d4ea0" />
<rect x="225.89" y="429.39" width="2.50" height="2.50" fill="#3d4ea0" />
<rect x="229.97" y="429.99" width="2.50" height="2.50" fill="#3d4ea0" />
<rect x="234.06" y="430.58" width="2.50" height="2.50" fill="#3d4ea0" />
<rect x="238.15" y="431.18" width="2.50" height="2.50" fill="#3d4ea0" />
<rect x="242.24" y="431.80" width="2.50" height="2.50" fill="#3d4ea0" />
<rect x="246.32" y="432.43" width="2.50" height="2.50" fill="#3d4ea0" />
<rect x="250.41" y="433.05" width="2.50" height="2.50" fill="#3d4ea0" />
<rect x="254.50" y="433.67" width="2.50" height="2.50" fill="#3d4ea0" />
<rect x="258.59" y="434.08" width="2.50" height="2.50" fill="#3d4ea0" />
<rect x="262.68" y="434.49" width="2.50" height="2.50" fill="#3d4ea0" />
<rect x="266.76" y="434.89" width="2.50" height="2.50" fill="#3d4ea0" />
<rect x="270.85" y="435.30" width="2.50" height="2.50" fill="#3d4ea0" />
<rect x="274.94" y="435.54" width="2.50" height="2.50" fill="#3d4ea0" />
<rect x="279.02" y="435.79" width="2.50" height="2.50" fill="#3d4ea0" />
<rect x="283.11" y="436.03" width="2.50" height="2.50" fill="#3d4ea0" />
<rect x="287.20" y="436.27" width="2.50" height="2.50" fill="#3d4ea0" />
<rect x="291.29" y="436.52" width="2.50" height="2.50" fill="#3d4ea0" />
<rect x="295.38" y="436.76" width="2.50" height="2.50" fill="#3d4ea0" />
<rect x="299.46" y="437.01" width="2.50" height="2.50" fill="#3d4ea0" />
<rect x="303.55" y="437.25" width="2.50" height="2.50" fill="#3d4ea0" />
<rect x="209.49" y="427.66" width="2.60" height="2.60" fill="#111" />
<rect x="213.57" y="427.23" width="2.60" height="2.60" fill="#111" />
<rect x="217.66" y="426.79" width="2.60" height="2.60" fill="#111" />
<rect x="221.75" y="426.14" width="2.60" height="2.60" fill="#111" />
<rect x="225.84" y="425.49" width="2.60" height="2.60" fill="#111" />
<rect x="229.92" y="424.05" width="2.60" height="2.60" fill="#111" />
<rect x="234.01" y="422.60" width="2.60" height="2.60" fill="#111" />
<rect x="238.10" y="421.16" width="2.60" height="2.60" fill="#111" />
<rect x="242.19" y="420.07" width="2.60" height="2.60" fill="#111" />
<line x1="247.57" y1="418.66" x2="247.57" y2="421.91" stroke="#222" stroke-width="0.6" />
<line x1="246.47" y1="418.66" x2="248.67" y2="418.66" stroke="#222" stroke-width="0.6" />
<line x1="246.47" y1="421.91" x2="248.67" y2="421.91" stroke="#222" stroke-width="0.6" />
<rect x="246.27" y="418.99" width="2.60" height="2.60" fill="#111" />
<line x1="251.66" y1="417.04" x2="251.66" y2="420.83" stroke="#222" stroke-width="0.6" />
<line x1="250.56" y1="417.04" x2="252.76" y2="417.04" stroke="#222" stroke-width="0.6" />
<line x1="250.56" y1="420.83" x2="252.76" y2="420.83" stroke="#222" stroke-width="0.6" />
<rect x="250.36" y="417.63" width="2.60" height="2.60" fill="#111" />
<line x1="255.75" y1="415.41" x2="255.75" y2="419.75" stroke="#222" stroke-width="0.6" />
<line x1="254.65" y1="415.41" x2="256.85" y2="415.41" stroke="#222" stroke-width="0.6" />
<line x1="254.65" y1="419.75" x2="256.85" y2="419.75" stroke="#222" stroke-width="0.6" />
<rect x="254.45" y="416.28" width="2.60" height="2.60" fill="#111" />
<line x1="259.84" y1="414.06" x2="259.84" y2="418.93" stroke="#222" stroke-width="0.6" />
<line x1="258.74" y1="414.06" x2="260.94" y2="414.06" stroke="#222" stroke-width="0.6" />
<line x1="258.74" y1="418.93" x2="260.94" y2="418.93" stroke="#222" stroke-width="0.6" />
<rect x="258.54" y="415.19" width="2.60" height="2.60" fill="#111" />
<line x1="263.93" y1="412.70" x2="263.93" y2="418.12" stroke="#222" stroke-width="0.6" />
<line x1="262.82" y1="412.70" x2="265.03" y2="412.70" stroke="#222" stroke-width="0.6" />
<line x1="262.82" y1="418.12" x2="265.03" y2="418.12" stroke="#222" stroke-width="0.6" />
<rect x="262.62" y="414.11" width="2.60" height="2.60" fill="#111" />
<line x1="268.01" y1="412.16" x2="268.01" y2="418.12" stroke="#222" stroke-width="0.6" />
<line x1="266.91" y1="412.16" x2="269.11" y2="412.16" stroke="#222" stroke-width="0.6" />
<line x1="266.91" y1="418.12" x2="269.11" y2="418.12" stroke="#222" stroke-width="0.6" />
<rect x="266.71" y="413.84" width="2.60" height="2.60" fill="#111" />
<line x1="272.10" y1="411.62" x2="272.10" y2="418.12" stroke="#222" stroke-width="0.6" />
<line x1="271.00" y1="411.62" x2="273.20" y2="411.62" stroke="#222" stroke-width="0.6" />
<line x1="271.00" y1="418.12" x2="273.20" y2="418.12" stroke="#222" stroke-width="0.6" />
<rect x="270.80" y="413.57" width="2.60" height="2.60" fill="#111" />
<line x1="276.19" y1="411.21" x2="276.19" y2="418.26" stroke="#222" stroke-width="0.6" />
<line x1="275.09" y1="411.21" x2="277.29" y2="411.21" stroke="#222" stroke-width="0.6" />
<line x1="275.09" y1="418.26" x2="277.29" y2="418.26" stroke="#222" stroke-width="0.6" />
<rect x="274.89" y="413.43" width="2.60" height="2.60" fill="#111" />
<line x1="280.27" y1="410.80" x2="280.27" y2="418.39" stroke="#222" stroke-width="0.6" />
<line x1="279.17" y1="410.80" x2="281.38" y2="410.80" stroke="#222" stroke-width="0.6" />
<line x1="279.17" y1="418.39" x2="281.38" y2="418.39" stroke="#222" stroke-width="0.6" />
<rect x="278.97" y="413.30" width="2.60" height="2.60" fill="#111" />
<line x1="284.36" y1="410.40" x2="284.36" y2="418.53" stroke="#222" stroke-width="0.6" />
<line x1="283.26" y1="410.40" x2="285.46" y2="410.40" stroke="#222" stroke-width="0.6" />
<line x1="283.26" y1="418.53" x2="285.46" y2="418.53" stroke="#222" stroke-width="0.6" />
<rect x="283.06" y="413.16" width="2.60" height="2.60" fill="#111" />
<line x1="288.45" y1="409.99" x2="288.45" y2="418.66" stroke="#222" stroke-width="0.6" />
<line x1="287.35" y1="409.99" x2="289.55" y2="409.99" stroke="#222" stroke-width="0.6" />
<line x1="287.35" y1="418.66" x2="289.55" y2="418.66" stroke="#222" stroke-width="0.6" />
<rect x="287.15" y="413.03" width="2.60" height="2.60" fill="#111" />
<line x1="292.54" y1="409.18" x2="292.54" y2="418.39" stroke="#222" stroke-width="0.6" />
<line x1="291.44" y1="409.18" x2="293.64" y2="409.18" stroke="#222" stroke-width="0.6" />
<line x1="291.44" y1="418.39" x2="293.64" y2="418.39" stroke="#222" stroke-width="0.6" />
<rect x="291.24" y="412.48" width="2.60" height="2.60" fill="#111" />
<line x1="296.62" y1="408.36" x2="296.62" y2="418.12" stroke="#222" stroke-width="0.6" />
<line x1="295.52" y1="408.36" x2="297.73" y2="408.36" stroke="#222" stroke-width="0.6" />
<line x1="295.52" y1="418.12" x2="297.73" y2="418.12" stroke="#222" stroke-width="0.6" />
<rect x="295.32" y="411.94" width="2.60" height="2.60" fill="#111" />
<line x1="300.71" y1="404.84" x2="300.71" y2="415.14" stroke="#222" stroke-width="0.6" />
<line x1="299.61" y1="404.84" x2="301.81" y2="404.84" stroke="#222" stroke-width="0.6" />
<line x1="299.61" y1="415.14" x2="301.81" y2="415.14" stroke="#222" stroke-width="0.6" />
<rect x="299.41" y="408.69" width="2.60" height="2.60" fill="#111" />
<line x1="304.80" y1="404.57" x2="304.80" y2="415.41" stroke="#222" stroke-width="0.6" />
<line x1="303.70" y1="404.57" x2="305.90" y2="404.57" stroke="#222" stroke-width="0.6" />
<line x1="303.70" y1="415.41" x2="305.90" y2="415.41" stroke="#222" stroke-width="0.6" />
<rect x="303.50" y="408.69" width="2.60" height="2.60" fill="#111" />
<circle cx="212.70" cy="361.00" r="1.2" fill="#111" />
<circle cx="212.70" cy="370.20" r="1.1" fill="#3d4ea0" />
<circle cx="212.70" cy="379.00" r="1.0" fill="#8a86c0" />
<text x="219.30" y="364.60" font-size="6.7" text-anchor="start" font-weight="normal" fill="#222"  stroke="#222" stroke-width="0.22">Mock</text>
<text x="219.30" y="373.60" font-size="6.7" text-anchor="start" font-weight="normal" fill="#222"  stroke="#222" stroke-width="0.22">CD93–28z</text>
<text x="219.30" y="382.60" font-size="6.7" text-anchor="start" font-weight="normal" fill="#222"  stroke="#222" stroke-width="0.22">CD93–BBz</text>
<line x1="255.20" y1="358.30" x2="255.20" y2="368.60" stroke="#111" stroke-width="1.5" />
<line x1="255.20" y1="371.40" x2="255.20" y2="382.60" stroke="#111" stroke-width="1.5" />
<line x1="270.40" y1="358.30" x2="270.40" y2="382.60" stroke="#111" stroke-width="1.5" />
<circle cx="259.20" cy="363.20" r="0.72" fill="#222" />
<circle cx="274.40" cy="370.00" r="0.72" fill="#222" />
<circle cx="261.70" cy="363.20" r="0.72" fill="#222" />
<circle cx="276.90" cy="370.00" r="0.72" fill="#222" />
<circle cx="264.20" cy="363.20" r="0.72" fill="#222" />
<circle cx="279.40" cy="370.00" r="0.72" fill="#222" />
<circle cx="266.70" cy="363.20" r="0.72" fill="#222" />
<circle cx="281.90" cy="370.00" r="0.72" fill="#222" />
<text x="262.80" y="380.00" font-size="7.2" text-anchor="middle" font-weight="normal" fill="#222"  stroke="#222" stroke-width="0.22">ns</text>
<line x1="387.30" y1="354.20" x2="387.30" y2="439.00" stroke="#1a1a1a" stroke-width="1.0" />
<line x1="387.30" y1="439.00" x2="514.50" y2="439.00" stroke="#1a1a1a" stroke-width="1.1" />
<line x1="384.30" y1="439.00" x2="387.30" y2="439.00" stroke="#1a1a1a" stroke-width="1.0" />
<text x="382.70" y="442.10" font-size="8.6" text-anchor="end" font-weight="normal" fill="#2a2a2a"  stroke="#2a2a2a" stroke-width="0.22">0</text>
<line x1="387.30" y1="439.00" x2="387.30" y2="441.60" stroke="#1a1a1a" stroke-width="1.0" />
<text x="387.30" y="451.60" font-size="8.6" text-anchor="middle" font-weight="normal" fill="#2a2a2a"  stroke="#2a2a2a" stroke-width="0.22">0</text>
<line x1="384.30" y1="417.80" x2="387.30" y2="417.80" stroke="#1a1a1a" stroke-width="1.0" />
<text x="382.70" y="420.90" font-size="8.6" text-anchor="end" font-weight="normal" fill="#2a2a2a"  stroke="#2a2a2a" stroke-width="0.22">2</text>
<line x1="419.10" y1="439.00" x2="419.10" y2="441.60" stroke="#1a1a1a" stroke-width="1.0" />
<text x="419.10" y="451.60" font-size="8.6" text-anchor="middle" font-weight="normal" fill="#2a2a2a"  stroke="#2a2a2a" stroke-width="0.22">24</text>
<line x1="384.30" y1="396.60" x2="387.30" y2="396.60" stroke="#1a1a1a" stroke-width="1.0" />
<text x="382.70" y="399.70" font-size="8.6" text-anchor="end" font-weight="normal" fill="#2a2a2a"  stroke="#2a2a2a" stroke-width="0.22">4</text>
<line x1="450.90" y1="439.00" x2="450.90" y2="441.60" stroke="#1a1a1a" stroke-width="1.0" />
<text x="450.90" y="451.60" font-size="8.6" text-anchor="middle" font-weight="normal" fill="#2a2a2a"  stroke="#2a2a2a" stroke-width="0.22">48</text>
<line x1="384.30" y1="375.40" x2="387.30" y2="375.40" stroke="#1a1a1a" stroke-width="1.0" />
<text x="382.70" y="378.50" font-size="8.6" text-anchor="end" font-weight="normal" fill="#2a2a2a"  stroke="#2a2a2a" stroke-width="0.22">6</text>
<line x1="482.70" y1="439.00" x2="482.70" y2="441.60" stroke="#1a1a1a" stroke-width="1.0" />
<text x="482.70" y="451.60" font-size="8.6" text-anchor="middle" font-weight="normal" fill="#2a2a2a"  stroke="#2a2a2a" stroke-width="0.22">72</text>
<line x1="384.30" y1="354.20" x2="387.30" y2="354.20" stroke="#1a1a1a" stroke-width="1.0" />
<text x="382.70" y="357.30" font-size="8.6" text-anchor="end" font-weight="normal" fill="#2a2a2a"  stroke="#2a2a2a" stroke-width="0.22">8</text>
<line x1="514.50" y1="439.00" x2="514.50" y2="441.60" stroke="#1a1a1a" stroke-width="1.0" />
<text x="514.50" y="451.60" font-size="8.6" text-anchor="middle" font-weight="normal" fill="#2a2a2a"  stroke="#2a2a2a" stroke-width="0.22">96</text>
<text x="450.90" y="342.40" font-size="8.9" text-anchor="middle" font-weight="normal" fill="#2a2a2a"  stroke="#2a2a2a" stroke-width="0.22">THP-1</text>
<text x="450.90" y="464.80" font-size="8.6" text-anchor="middle" font-weight="normal" fill="#2a2a2a"  stroke="#2a2a2a" stroke-width="0.22">Hours</text>
<rect x="389.41" y="427.20" width="2.40" height="2.40" fill="#9a86c0" />
<rect x="396.70" y="428.05" width="2.40" height="2.40" fill="#9a86c0" />
<rect x="402.00" y="428.47" width="2.40" height="2.40" fill="#9a86c0" />
<rect x="407.30" y="429.69" width="2.40" height="2.40" fill="#9a86c0" />
<rect x="412.60" y="430.91" width="2.40" height="2.40" fill="#9a86c0" />
<line x1="419.10" y1="429.46" x2="419.10" y2="435.82" stroke="#9a86c0" stroke-width="0.6" />
<line x1="418.10" y1="429.46" x2="420.10" y2="429.46" stroke="#9a86c0" stroke-width="0.6" />
<line x1="418.10" y1="435.82" x2="420.10" y2="435.82" stroke="#9a86c0" stroke-width="0.6" />
<rect x="417.90" y="431.44" width="2.40" height="2.40" fill="#9a86c0" />
<line x1="424.40" y1="429.99" x2="424.40" y2="436.35" stroke="#9a86c0" stroke-width="0.6" />
<line x1="423.40" y1="429.99" x2="425.40" y2="429.99" stroke="#9a86c0" stroke-width="0.6" />
<line x1="423.40" y1="436.35" x2="425.40" y2="436.35" stroke="#9a86c0" stroke-width="0.6" />
<rect x="423.20" y="431.97" width="2.40" height="2.40" fill="#9a86c0" />
<line x1="429.70" y1="430.25" x2="429.70" y2="436.62" stroke="#9a86c0" stroke-width="0.6" />
<line x1="428.70" y1="430.25" x2="430.70" y2="430.25" stroke="#9a86c0" stroke-width="0.6" />
<line x1="428.70" y1="436.62" x2="430.70" y2="436.62" stroke="#9a86c0" stroke-width="0.6" />
<rect x="428.50" y="432.24" width="2.40" height="2.40" fill="#9a86c0" />
<line x1="435.00" y1="430.52" x2="435.00" y2="436.88" stroke="#9a86c0" stroke-width="0.6" />
<line x1="434.00" y1="430.52" x2="436.00" y2="430.52" stroke="#9a86c0" stroke-width="0.6" />
<line x1="434.00" y1="436.88" x2="436.00" y2="436.88" stroke="#9a86c0" stroke-width="0.6" />
<rect x="433.80" y="432.50" width="2.40" height="2.40" fill="#9a86c0" />
<line x1="440.30" y1="430.59" x2="440.30" y2="436.95" stroke="#9a86c0" stroke-width="0.6" />
<line x1="439.30" y1="430.59" x2="441.30" y2="430.59" stroke="#9a86c0" stroke-width="0.6" />
<line x1="439.30" y1="436.95" x2="441.30" y2="436.95" stroke="#9a86c0" stroke-width="0.6" />
<rect x="439.10" y="432.57" width="2.40" height="2.40" fill="#9a86c0" />
<line x1="445.60" y1="430.66" x2="445.60" y2="437.02" stroke="#9a86c0" stroke-width="0.6" />
<line x1="444.60" y1="430.66" x2="446.60" y2="430.66" stroke="#9a86c0" stroke-width="0.6" />
<line x1="444.60" y1="437.02" x2="446.60" y2="437.02" stroke="#9a86c0" stroke-width="0.6" />
<rect x="444.40" y="432.64" width="2.40" height="2.40" fill="#9a86c0" />
<line x1="450.90" y1="430.73" x2="450.90" y2="437.09" stroke="#9a86c0" stroke-width="0.6" />
<line x1="449.90" y1="430.73" x2="451.90" y2="430.73" stroke="#9a86c0" stroke-width="0.6" />
<line x1="449.90" y1="437.09" x2="451.90" y2="437.09" stroke="#9a86c0" stroke-width="0.6" />
<rect x="449.70" y="432.71" width="2.40" height="2.40" fill="#9a86c0" />
<line x1="456.20" y1="430.84" x2="456.20" y2="437.20" stroke="#9a86c0" stroke-width="0.6" />
<line x1="455.20" y1="430.84" x2="457.20" y2="430.84" stroke="#9a86c0" stroke-width="0.6" />
<line x1="455.20" y1="437.20" x2="457.20" y2="437.20" stroke="#9a86c0" stroke-width="0.6" />
<rect x="455.00" y="432.82" width="2.40" height="2.40" fill="#9a86c0" />
<line x1="461.50" y1="430.94" x2="461.50" y2="437.30" stroke="#9a86c0" stroke-width="0.6" />
<line x1="460.50" y1="430.94" x2="462.50" y2="430.94" stroke="#9a86c0" stroke-width="0.6" />
<line x1="460.50" y1="437.30" x2="462.50" y2="437.30" stroke="#9a86c0" stroke-width="0.6" />
<rect x="460.30" y="432.92" width="2.40" height="2.40" fill="#9a86c0" />
<line x1="466.80" y1="431.05" x2="466.80" y2="437.41" stroke="#9a86c0" stroke-width="0.6" />
<line x1="465.80" y1="431.05" x2="467.80" y2="431.05" stroke="#9a86c0" stroke-width="0.6" />
<line x1="465.80" y1="437.41" x2="467.80" y2="437.41" stroke="#9a86c0" stroke-width="0.6" />
<rect x="465.60" y="433.03" width="2.40" height="2.40" fill="#9a86c0" />
<line x1="472.10" y1="431.16" x2="472.10" y2="437.52" stroke="#9a86c0" stroke-width="0.6" />
<line x1="471.10" y1="431.16" x2="473.10" y2="431.16" stroke="#9a86c0" stroke-width="0.6" />
<line x1="471.10" y1="437.52" x2="473.10" y2="437.52" stroke="#9a86c0" stroke-width="0.6" />
<rect x="470.90" y="433.14" width="2.40" height="2.40" fill="#9a86c0" />
<line x1="477.40" y1="431.26" x2="477.40" y2="437.62" stroke="#9a86c0" stroke-width="0.6" />
<line x1="476.40" y1="431.26" x2="478.40" y2="431.26" stroke="#9a86c0" stroke-width="0.6" />
<line x1="476.40" y1="437.62" x2="478.40" y2="437.62" stroke="#9a86c0" stroke-width="0.6" />
<rect x="476.20" y="433.24" width="2.40" height="2.40" fill="#9a86c0" />
<line x1="482.70" y1="431.37" x2="482.70" y2="437.73" stroke="#9a86c0" stroke-width="0.6" />
<line x1="481.70" y1="431.37" x2="483.70" y2="431.37" stroke="#9a86c0" stroke-width="0.6" />
<line x1="481.70" y1="437.73" x2="483.70" y2="437.73" stroke="#9a86c0" stroke-width="0.6" />
<rect x="481.50" y="433.35" width="2.40" height="2.40" fill="#9a86c0" />
<rect x="389.36" y="427.15" width="2.50" height="2.50" fill="#3d4ea0" />
<rect x="396.65" y="428.21" width="2.50" height="2.50" fill="#3d4ea0" />
<rect x="401.95" y="428.74" width="2.50" height="2.50" fill="#3d4ea0" />
<rect x="407.25" y="430.06" width="2.50" height="2.50" fill="#3d4ea0" />
<rect x="412.55" y="431.39" width="2.50" height="2.50" fill="#3d4ea0" />
<rect x="417.85" y="432.19" width="2.50" height="2.50" fill="#3d4ea0" />
<rect x="423.15" y="432.98" width="2.50" height="2.50" fill="#3d4ea0" />
<rect x="428.45" y="433.51" width="2.50" height="2.50" fill="#3d4ea0" />
<rect x="433.75" y="434.04" width="2.50" height="2.50" fill="#3d4ea0" />
<rect x="439.05" y="434.75" width="2.50" height="2.50" fill="#3d4ea0" />
<rect x="444.35" y="435.45" width="2.50" height="2.50" fill="#3d4ea0" />
<rect x="449.65" y="436.16" width="2.50" height="2.50" fill="#3d4ea0" />
<rect x="454.95" y="436.34" width="2.50" height="2.50" fill="#3d4ea0" />
<rect x="460.25" y="436.51" width="2.50" height="2.50" fill="#3d4ea0" />
<rect x="465.55" y="436.69" width="2.50" height="2.50" fill="#3d4ea0" />
<rect x="470.85" y="436.87" width="2.50" height="2.50" fill="#3d4ea0" />
<rect x="476.15" y="437.04" width="2.50" height="2.50" fill="#3d4ea0" />
<rect x="481.45" y="437.22" width="2.50" height="2.50" fill="#3d4ea0" />
<rect x="389.31" y="427.10" width="2.60" height="2.60" fill="#111" />
<rect x="396.60" y="427.95" width="2.60" height="2.60" fill="#111" />
<rect x="401.90" y="424.24" width="2.60" height="2.60" fill="#111" />
<rect x="407.20" y="422.12" width="2.60" height="2.60" fill="#111" />
<rect x="412.50" y="420.00" width="2.60" height="2.60" fill="#111" />
<rect x="417.80" y="417.88" width="2.60" height="2.60" fill="#111" />
<rect x="423.10" y="415.76" width="2.60" height="2.60" fill="#111" />
<line x1="429.70" y1="412.66" x2="429.70" y2="416.90" stroke="#222" stroke-width="0.6" />
<line x1="428.60" y1="412.66" x2="430.80" y2="412.66" stroke="#222" stroke-width="0.6" />
<line x1="428.60" y1="416.90" x2="430.80" y2="416.90" stroke="#222" stroke-width="0.6" />
<rect x="428.40" y="413.48" width="2.60" height="2.60" fill="#111" />
<line x1="435.00" y1="409.64" x2="435.00" y2="415.36" stroke="#222" stroke-width="0.6" />
<line x1="433.90" y1="409.64" x2="436.10" y2="409.64" stroke="#222" stroke-width="0.6" />
<line x1="433.90" y1="415.36" x2="436.10" y2="415.36" stroke="#222" stroke-width="0.6" />
<rect x="433.70" y="411.20" width="2.60" height="2.60" fill="#111" />
<line x1="440.30" y1="406.56" x2="440.30" y2="413.77" stroke="#222" stroke-width="0.6" />
<line x1="439.20" y1="406.56" x2="441.40" y2="406.56" stroke="#222" stroke-width="0.6" />
<line x1="439.20" y1="413.77" x2="441.40" y2="413.77" stroke="#222" stroke-width="0.6" />
<rect x="439.00" y="408.87" width="2.60" height="2.60" fill="#111" />
<line x1="445.60" y1="403.49" x2="445.60" y2="412.18" stroke="#222" stroke-width="0.6" />
<line x1="444.50" y1="403.49" x2="446.70" y2="403.49" stroke="#222" stroke-width="0.6" />
<line x1="444.50" y1="412.18" x2="446.70" y2="412.18" stroke="#222" stroke-width="0.6" />
<rect x="444.30" y="406.54" width="2.60" height="2.60" fill="#111" />
<line x1="450.90" y1="398.40" x2="450.90" y2="408.58" stroke="#222" stroke-width="0.6" />
<line x1="449.80" y1="398.40" x2="452.00" y2="398.40" stroke="#222" stroke-width="0.6" />
<line x1="449.80" y1="408.58" x2="452.00" y2="408.58" stroke="#222" stroke-width="0.6" />
<rect x="449.60" y="402.19" width="2.60" height="2.60" fill="#111" />
<line x1="456.20" y1="393.95" x2="456.20" y2="405.61" stroke="#222" stroke-width="0.6" />
<line x1="455.10" y1="393.95" x2="457.30" y2="393.95" stroke="#222" stroke-width="0.6" />
<line x1="455.10" y1="405.61" x2="457.30" y2="405.61" stroke="#222" stroke-width="0.6" />
<rect x="454.90" y="398.48" width="2.60" height="2.60" fill="#111" />
<line x1="461.50" y1="389.50" x2="461.50" y2="402.64" stroke="#222" stroke-width="0.6" />
<line x1="460.40" y1="389.50" x2="462.60" y2="389.50" stroke="#222" stroke-width="0.6" />
<line x1="460.40" y1="402.64" x2="462.60" y2="402.64" stroke="#222" stroke-width="0.6" />
<rect x="460.20" y="394.77" width="2.60" height="2.60" fill="#111" />
<line x1="466.80" y1="382.45" x2="466.80" y2="397.08" stroke="#222" stroke-width="0.6" />
<line x1="465.70" y1="382.45" x2="467.90" y2="382.45" stroke="#222" stroke-width="0.6" />
<line x1="465.70" y1="397.08" x2="467.90" y2="397.08" stroke="#222" stroke-width="0.6" />
<rect x="465.50" y="388.46" width="2.60" height="2.60" fill="#111" />
<line x1="472.10" y1="375.40" x2="472.10" y2="391.51" stroke="#222" stroke-width="0.6" />
<line x1="471.00" y1="375.40" x2="473.20" y2="375.40" stroke="#222" stroke-width="0.6" />
<line x1="471.00" y1="391.51" x2="473.20" y2="391.51" stroke="#222" stroke-width="0.6" />
<rect x="470.80" y="382.16" width="2.60" height="2.60" fill="#111" />
<line x1="477.40" y1="368.72" x2="477.40" y2="386.32" stroke="#222" stroke-width="0.6" />
<line x1="476.30" y1="368.72" x2="478.50" y2="368.72" stroke="#222" stroke-width="0.6" />
<line x1="476.30" y1="386.32" x2="478.50" y2="386.32" stroke="#222" stroke-width="0.6" />
<rect x="476.10" y="376.22" width="2.60" height="2.60" fill="#111" />
<line x1="482.70" y1="364.80" x2="482.70" y2="383.88" stroke="#222" stroke-width="0.6" />
<line x1="481.60" y1="364.80" x2="483.80" y2="364.80" stroke="#222" stroke-width="0.6" />
<line x1="481.60" y1="383.88" x2="483.80" y2="383.88" stroke="#222" stroke-width="0.6" />
<rect x="481.40" y="373.04" width="2.60" height="2.60" fill="#111" />
<circle cx="392.70" cy="361.00" r="1.2" fill="#111" />
<circle cx="392.70" cy="370.20" r="1.1" fill="#3d4ea0" />
<circle cx="392.70" cy="379.00" r="1.0" fill="#9a86c0" />
<text x="399.30" y="364.60" font-size="6.7" text-anchor="start" font-weight="normal" fill="#222"  stroke="#222" stroke-width="0.22">Mock</text>
<text x="399.30" y="373.60" font-size="6.7" text-anchor="start" font-weight="normal" fill="#222"  stroke="#222" stroke-width="0.22">CD93–28z</text>
<text x="399.30" y="382.60" font-size="6.7" text-anchor="start" font-weight="normal" fill="#222"  stroke="#222" stroke-width="0.22">CD93–BBz</text>
<line x1="435.00" y1="358.30" x2="435.00" y2="368.60" stroke="#111" stroke-width="1.5" />
<line x1="435.00" y1="371.40" x2="435.00" y2="382.60" stroke="#111" stroke-width="1.5" />
<line x1="449.80" y1="358.30" x2="449.80" y2="382.60" stroke="#111" stroke-width="1.5" />
<circle cx="439.00" cy="363.20" r="0.72" fill="#222" />
<circle cx="453.80" cy="370.00" r="0.72" fill="#222" />
<circle cx="441.50" cy="363.20" r="0.72" fill="#222" />
<circle cx="456.30" cy="370.00" r="0.72" fill="#222" />
<circle cx="444.00" cy="363.20" r="0.72" fill="#222" />
<circle cx="458.80" cy="370.00" r="0.72" fill="#222" />
<circle cx="446.50" cy="363.20" r="0.72" fill="#222" />
<circle cx="461.30" cy="370.00" r="0.72" fill="#222" />
<text x="442.60" y="380.00" font-size="7.2" text-anchor="middle" font-weight="normal" fill="#222"  stroke="#222" stroke-width="0.22">ns</text>
</svg></body></html>
